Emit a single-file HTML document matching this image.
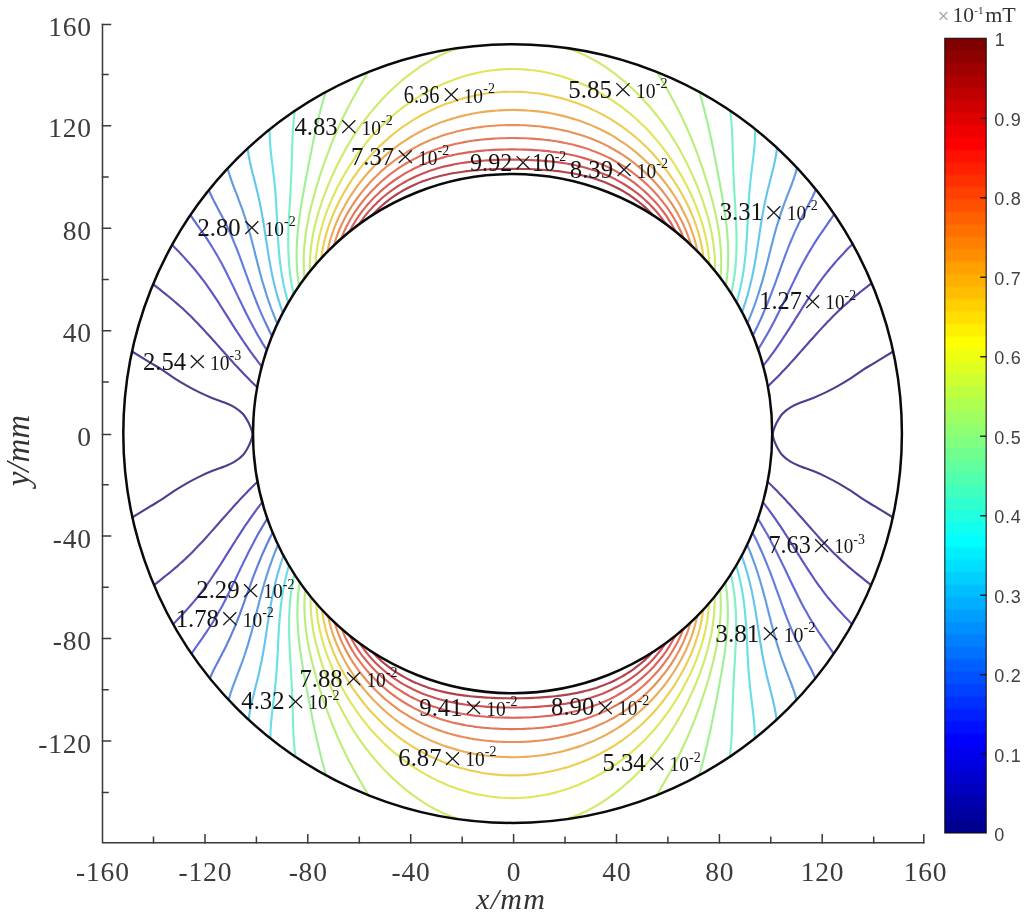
<!DOCTYPE html>
<html lang="en"><head><meta charset="utf-8"><title>Contour plot</title>
<style>html,body{margin:0;padding:0;background:#fff}svg{display:block}</style></head><body>
<svg width="1025" height="916" viewBox="0 0 1025 916">
<rect width="1025" height="916" fill="#fff"/>
<g fill="none" stroke-width="2.15" stroke-linecap="round" stroke-linejoin="round">
<path stroke="rgb(74,64,140)" d="M132.1 351.5C135.0 353.3 144.8 359.2 149.8 362.3C154.8 365.4 158.1 367.1 162.2 369.8C166.3 372.5 170.5 375.6 174.6 378.3C178.8 381.0 183.0 383.5 187.1 385.9C191.2 388.2 195.4 390.4 199.5 392.4C203.6 394.4 207.8 396.2 211.9 397.9C216.0 399.6 220.7 401.1 224.4 402.6C228.1 404.1 231.2 405.2 234.3 407.1C237.4 409.0 240.6 411.3 243.0 414.0C245.4 416.7 247.3 420.4 248.8 423.2C250.3 425.9 251.1 428.6 251.7 430.5C252.3 432.4 252.5 433.2 252.5 434.5C252.5 435.8 252.3 436.6 251.7 438.5C251.1 440.4 250.3 443.1 248.8 445.8C247.3 448.6 245.4 452.3 243.0 455.0C240.6 457.7 237.4 460.0 234.3 461.9C231.2 463.8 228.1 464.9 224.4 466.4C220.7 467.9 216.0 469.4 211.9 471.1C207.8 472.8 203.6 474.6 199.5 476.6C195.4 478.6 191.2 480.8 187.1 483.1C183.0 485.5 178.8 488.0 174.6 490.7C170.5 493.4 166.3 496.5 162.2 499.2C158.1 501.9 154.8 503.6 149.8 506.7C144.8 509.8 135.0 515.7 132.1 517.5M893.1 351.5C890.2 353.3 880.4 359.2 875.4 362.3C870.4 365.4 867.1 367.1 863.0 369.8C858.9 372.5 854.7 375.6 850.6 378.3C846.4 381.0 842.2 383.5 838.1 385.9C834.0 388.2 829.8 390.4 825.7 392.4C821.6 394.4 817.5 396.2 813.3 397.9C809.2 399.6 804.5 401.1 800.8 402.6C797.1 404.1 794.0 405.2 790.9 407.1C787.8 409.0 784.6 411.3 782.2 414.0C779.8 416.7 777.9 420.4 776.4 423.2C775.0 425.9 774.1 428.6 773.5 430.5C772.9 432.4 772.7 433.2 772.7 434.5C772.7 435.8 772.9 436.6 773.5 438.5C774.1 440.4 775.0 443.1 776.4 445.8C777.9 448.6 779.8 452.3 782.2 455.0C784.6 457.7 787.8 460.0 790.9 461.9C794.0 463.8 797.1 464.9 800.8 466.4C804.5 467.9 809.2 469.4 813.3 471.1C817.5 472.8 821.6 474.6 825.7 476.6C829.8 478.6 834.0 480.8 838.1 483.1C842.2 485.5 846.4 488.0 850.6 490.7C854.7 493.4 858.9 496.5 863.0 499.2C867.1 501.9 870.4 503.6 875.4 506.7C880.4 509.8 890.2 515.7 893.1 517.5"/>
<path stroke="rgb(84,74,165)" d="M154.3 584.9C155.1 584.3 157.5 582.4 159.1 581.1C160.7 579.8 162.4 578.5 164.0 577.2C165.6 575.9 167.2 574.6 168.8 573.3C170.5 572.0 172.1 570.7 173.7 569.3C175.3 567.9 176.9 566.6 178.4 565.2C180.0 563.8 181.6 562.3 183.2 560.9C184.8 559.4 186.3 557.9 187.9 556.4C189.4 554.9 191.0 553.4 192.5 551.9C194.1 550.3 195.6 548.7 197.2 547.1C198.7 545.5 200.2 543.9 201.8 542.2C203.3 540.6 204.9 538.9 206.4 537.2C207.9 535.6 209.3 534.0 210.7 532.4C212.1 530.8 213.4 529.4 214.8 527.8C216.3 526.2 217.9 524.3 219.4 522.5C221.0 520.8 222.5 519.0 224.1 517.2C225.6 515.5 227.2 513.7 228.8 511.9C230.4 510.1 232.0 508.4 233.5 506.6C235.1 504.9 236.8 503.0 238.3 501.4C239.7 499.8 240.9 498.5 242.4 497.0C243.9 495.4 245.7 493.5 247.3 491.9C248.8 490.3 249.8 489.2 251.6 487.5C253.3 485.8 256.5 482.6 257.5 481.7M153.3 284.4C154.1 285.1 156.6 287.0 158.2 288.2C159.8 289.5 161.5 290.8 163.1 292.1C164.7 293.4 166.3 294.6 168.0 296.0C169.6 297.3 171.2 298.6 172.8 300.0C174.4 301.3 176.0 302.7 177.6 304.1C179.2 305.5 180.8 306.9 182.4 308.3C184.0 309.8 185.5 311.3 187.1 312.7C188.7 314.2 190.2 315.8 191.8 317.3C193.3 318.9 194.9 320.4 196.4 322.0C198.0 323.6 199.5 325.3 201.1 326.9C202.6 328.5 204.2 330.2 205.7 331.9C207.2 333.5 208.7 335.1 210.1 336.7C211.5 338.3 212.7 339.7 214.2 341.3C215.6 342.9 217.3 344.8 218.8 346.5C220.4 348.3 222.0 350.1 223.5 351.8C225.1 353.6 226.7 355.4 228.3 357.1C229.8 358.9 231.5 360.7 233.0 362.4C234.6 364.2 236.3 366.0 237.8 367.6C239.3 369.2 240.5 370.4 242.0 372.0C243.5 373.6 245.3 375.5 246.9 377.1C248.4 378.6 249.5 379.7 251.2 381.4C252.9 383.1 256.2 386.3 257.2 387.2M870.9 584.9C870.1 584.3 867.7 582.4 866.1 581.1C864.5 579.8 862.8 578.5 861.2 577.2C859.6 575.9 858.0 574.6 856.4 573.3C854.7 572.0 853.1 570.7 851.5 569.3C849.9 567.9 848.3 566.6 846.8 565.2C845.2 563.8 843.6 562.3 842.0 560.9C840.4 559.4 838.9 557.9 837.3 556.4C835.8 554.9 834.2 553.4 832.7 551.9C831.1 550.3 829.6 548.7 828.0 547.1C826.5 545.5 825.0 543.9 823.4 542.2C821.9 540.6 820.3 538.9 818.8 537.2C817.3 535.6 815.9 534.0 814.5 532.4C813.1 530.8 811.8 529.4 810.4 527.8C808.9 526.2 807.3 524.3 805.8 522.5C804.2 520.8 802.7 519.0 801.1 517.2C799.6 515.5 798.0 513.7 796.4 511.9C794.8 510.1 793.2 508.4 791.7 506.6C790.1 504.9 788.4 503.0 786.9 501.4C785.5 499.8 784.3 498.5 782.8 497.0C781.3 495.4 779.5 493.5 777.9 491.9C776.4 490.3 775.4 489.2 773.6 487.5C771.9 485.8 768.7 482.6 767.7 481.7M871.4 283.4C870.6 284.0 868.2 285.9 866.6 287.2C864.9 288.5 863.3 289.7 861.7 291.0C860.1 292.3 858.4 293.6 856.8 294.9C855.2 296.2 853.6 297.6 852.0 298.9C850.4 300.3 848.8 301.7 847.2 303.1C845.6 304.5 844.0 305.9 842.4 307.3C840.9 308.8 839.3 310.3 837.7 311.8C836.2 313.3 834.6 314.8 833.1 316.3C831.5 317.9 830.0 319.5 828.4 321.1C826.9 322.7 825.3 324.3 823.8 325.9C822.3 327.6 820.7 329.3 819.2 330.9C817.7 332.6 816.2 334.2 814.8 335.8C813.4 337.3 812.2 338.7 810.7 340.3C809.3 342.0 807.6 343.8 806.1 345.6C804.5 347.3 803.0 349.1 801.4 350.9C799.8 352.7 798.3 354.4 796.7 356.2C795.1 358.0 793.5 359.8 791.9 361.5C790.3 363.2 788.7 365.1 787.2 366.7C785.7 368.3 784.5 369.5 783.0 371.1C781.5 372.7 779.7 374.6 778.2 376.2C776.6 377.7 775.6 378.8 773.8 380.5C772.1 382.2 768.9 385.4 767.9 386.4"/>
<path stroke="rgb(92,86,196)" d="M173.4 623.9C174.1 623.2 176.3 621.0 177.7 619.4C179.1 617.9 180.6 616.4 182.0 614.9C183.5 613.4 184.9 611.8 186.3 610.3C187.7 608.7 189.1 607.1 190.5 605.5C191.9 603.9 193.4 602.2 194.7 600.6C196.0 599.0 197.2 597.6 198.6 595.9C199.9 594.2 201.5 592.2 202.8 590.3C204.2 588.5 205.5 586.7 206.8 585.0C208.0 583.2 209.1 581.7 210.3 580.0C211.5 578.2 212.7 576.4 213.9 574.5C215.2 572.7 216.5 570.7 217.8 568.7C219.1 566.7 220.5 564.5 221.6 562.7C222.8 560.8 223.8 559.3 224.8 557.6C225.9 555.9 227.0 554.2 228.1 552.4C229.1 550.7 230.2 549.0 231.3 547.3C232.4 545.5 233.5 543.8 234.6 542.1C235.7 540.3 236.8 538.7 237.9 536.9C239.0 535.2 240.2 533.4 241.3 531.6C242.5 529.9 243.6 528.1 244.7 526.4C245.9 524.7 247.0 523.1 248.2 521.4C249.3 519.7 250.6 517.9 251.8 516.2C253.1 514.4 254.3 512.8 255.5 511.1C256.7 509.4 258.1 507.6 259.2 506.1C260.3 504.7 261.7 502.9 262.3 502.2M172.3 245.1C173.0 245.8 175.2 248.0 176.7 249.5C178.1 251.0 179.6 252.5 181.0 254.1C182.4 255.6 183.9 257.1 185.3 258.7C186.7 260.2 188.1 261.8 189.5 263.4C191.0 265.0 192.4 266.7 193.7 268.3C195.1 269.9 196.3 271.3 197.6 273.1C199.0 274.8 200.5 276.8 201.9 278.6C203.3 280.4 204.6 282.2 205.9 283.9C207.1 285.7 208.2 287.2 209.4 288.9C210.6 290.7 211.8 292.5 213.1 294.4C214.4 296.2 215.7 298.2 217.0 300.2C218.3 302.2 219.7 304.4 220.8 306.2C222.0 308.1 223.0 309.6 224.1 311.3C225.2 313.0 226.2 314.7 227.3 316.4C228.4 318.2 229.5 319.9 230.6 321.6C231.7 323.4 232.8 325.1 233.9 326.8C235.0 328.5 236.1 330.2 237.2 332.0C238.4 333.7 239.5 335.5 240.7 337.2C241.8 339.0 243.0 340.7 244.1 342.4C245.3 344.1 246.4 345.7 247.6 347.4C248.8 349.2 250.1 351.0 251.3 352.7C252.5 354.4 253.7 356.1 255.0 357.7C256.2 359.4 257.6 361.2 258.7 362.7C259.9 364.2 261.3 365.9 261.8 366.6M851.8 623.9C851.1 623.2 848.9 621.0 847.5 619.4C846.1 617.9 844.6 616.4 843.2 614.9C841.7 613.4 840.3 611.8 838.9 610.3C837.5 608.7 836.1 607.1 834.7 605.5C833.3 603.9 831.8 602.2 830.5 600.6C829.2 599.0 828.0 597.6 826.6 595.9C825.3 594.2 823.7 592.2 822.4 590.3C821.0 588.5 819.7 586.7 818.4 585.0C817.2 583.2 816.1 581.7 814.9 580.0C813.7 578.2 812.5 576.4 811.3 574.5C810.0 572.7 808.7 570.7 807.4 568.7C806.1 566.7 804.7 564.5 803.6 562.7C802.4 560.8 801.4 559.3 800.4 557.6C799.3 555.9 798.2 554.2 797.1 552.4C796.1 550.7 795.0 549.0 793.9 547.3C792.8 545.5 791.7 543.8 790.6 542.1C789.5 540.3 788.4 538.7 787.3 536.9C786.2 535.2 785.0 533.4 783.9 531.6C782.7 529.9 781.6 528.1 780.5 526.4C779.3 524.7 778.2 523.1 777.0 521.4C775.9 519.7 774.6 517.9 773.4 516.2C772.1 514.4 770.9 512.8 769.7 511.1C768.5 509.4 767.1 507.6 766.0 506.1C764.9 504.7 763.5 502.9 762.9 502.2M852.4 244.2C851.7 244.9 849.5 247.1 848.0 248.6C846.6 250.1 845.2 251.7 843.7 253.2C842.3 254.7 840.8 256.2 839.4 257.8C838.0 259.4 836.6 260.9 835.2 262.5C833.8 264.1 832.4 265.8 831.0 267.4C829.7 269.0 828.5 270.5 827.1 272.2C825.8 273.9 824.2 275.9 822.9 277.7C821.5 279.5 820.2 281.4 818.9 283.1C817.7 284.8 816.6 286.3 815.4 288.1C814.2 289.8 813.0 291.6 811.7 293.5C810.4 295.4 809.1 297.4 807.8 299.4C806.6 301.3 805.2 303.5 804.0 305.4C802.8 307.2 801.8 308.7 800.8 310.5C799.7 312.2 798.6 313.9 797.5 315.6C796.4 317.3 795.4 319.0 794.3 320.8C793.2 322.5 792.1 324.3 791.0 326.0C789.9 327.7 788.8 329.4 787.7 331.1C786.5 332.9 785.4 334.7 784.2 336.4C783.1 338.1 781.9 339.9 780.8 341.6C779.6 343.3 778.5 344.9 777.3 346.6C776.2 348.3 774.9 350.1 773.7 351.9C772.4 353.6 771.2 355.2 770.0 356.9C768.8 358.6 767.4 360.4 766.2 361.9C765.1 363.3 763.7 365.1 763.2 365.8"/>
<path stroke="rgb(98,104,215)" d="M191.7 653.4C192.3 652.6 194.1 649.9 195.3 648.1C196.5 646.4 197.8 644.6 199.0 642.9C200.2 641.1 201.4 639.4 202.7 637.6C203.9 635.8 205.1 634.1 206.3 632.3C207.5 630.5 208.7 628.7 209.9 626.8C211.1 625.0 212.3 623.1 213.4 621.2C214.6 619.3 215.8 617.4 216.9 615.4C218.0 613.5 219.1 611.5 220.1 609.7C221.2 607.9 222.0 606.3 223.0 604.4C224.0 602.5 225.3 600.1 226.3 598.1C227.2 596.2 228.0 594.6 228.9 592.8C229.8 591.0 230.7 589.1 231.6 587.3C232.5 585.5 233.4 583.6 234.3 581.8C235.2 579.9 236.0 578.0 236.9 576.2C237.8 574.3 238.7 572.4 239.6 570.5C240.5 568.6 241.4 566.7 242.4 564.8C243.3 562.9 244.2 561.0 245.2 559.1C246.1 557.2 247.1 555.2 248.0 553.3C248.9 551.5 249.7 549.9 250.7 548.0C251.7 546.1 252.8 543.9 253.9 541.9C254.9 540.0 255.9 538.2 256.9 536.3C258.0 534.4 259.0 532.5 260.1 530.7C261.2 528.8 262.1 527.2 263.3 525.2C264.5 523.1 266.7 519.7 267.3 518.6M190.6 215.3C191.2 216.2 193.0 218.8 194.2 220.6C195.5 222.3 196.7 224.1 197.9 225.8C199.2 227.6 200.4 229.3 201.6 231.1C202.8 232.9 204.1 234.6 205.3 236.4C206.5 238.2 207.7 240.0 208.9 241.9C210.1 243.7 211.3 245.6 212.4 247.5C213.6 249.4 214.8 251.3 215.9 253.2C217.0 255.2 218.2 257.1 219.2 259.0C220.2 260.8 221.0 262.4 222.1 264.3C223.1 266.2 224.3 268.6 225.3 270.6C226.3 272.5 227.1 274.1 228.0 275.9C228.9 277.7 229.8 279.6 230.7 281.4C231.6 283.2 232.5 285.1 233.4 286.9C234.3 288.8 235.2 290.7 236.1 292.6C237.0 294.4 237.9 296.3 238.8 298.2C239.7 300.1 240.7 302.0 241.6 303.9C242.5 305.8 243.5 307.7 244.4 309.7C245.3 311.6 246.3 313.5 247.3 315.4C248.2 317.2 249.0 318.8 250.0 320.7C251.0 322.6 252.2 324.8 253.2 326.8C254.3 328.7 255.3 330.6 256.3 332.4C257.3 334.3 258.4 336.2 259.5 338.0C260.5 339.9 261.5 341.6 262.7 343.6C264.0 345.6 266.1 349.0 266.8 350.1M833.5 653.4C832.9 652.6 831.1 649.9 829.9 648.1C828.7 646.4 827.4 644.6 826.2 642.9C825.0 641.1 823.8 639.4 822.5 637.6C821.3 635.8 820.1 634.1 818.9 632.3C817.7 630.5 816.5 628.7 815.3 626.8C814.1 625.0 812.9 623.1 811.8 621.2C810.6 619.3 809.4 617.4 808.3 615.4C807.2 613.5 806.1 611.5 805.1 609.7C804.0 607.9 803.2 606.3 802.2 604.4C801.2 602.5 799.9 600.1 798.9 598.1C798.0 596.2 797.2 594.6 796.3 592.8C795.4 591.0 794.5 589.1 793.6 587.3C792.7 585.5 791.8 583.6 790.9 581.8C790.0 579.9 789.2 578.0 788.3 576.2C787.4 574.3 786.5 572.4 785.6 570.5C784.7 568.6 783.8 566.7 782.8 564.8C781.9 562.9 781.0 561.0 780.0 559.1C779.1 557.2 778.1 555.2 777.2 553.3C776.3 551.5 775.5 549.9 774.5 548.0C773.5 546.1 772.4 543.9 771.3 541.9C770.3 540.0 769.3 538.2 768.3 536.3C767.2 534.4 766.2 532.5 765.1 530.7C764.0 528.8 763.1 527.2 761.9 525.2C760.7 523.1 758.5 519.7 757.9 518.6M834.1 214.5C833.5 215.4 831.7 218.0 830.4 219.8C829.2 221.6 828.0 223.3 826.8 225.1C825.5 226.8 824.3 228.6 823.1 230.3C821.9 232.1 820.6 233.9 819.4 235.7C818.2 237.5 817.0 239.3 815.8 241.1C814.6 243.0 813.5 244.8 812.3 246.7C811.1 248.6 810.0 250.6 808.8 252.5C807.7 254.4 806.6 256.4 805.6 258.2C804.5 260.1 803.7 261.6 802.7 263.5C801.7 265.5 800.4 267.9 799.4 269.8C798.4 271.7 797.6 273.4 796.7 275.2C795.8 277.0 794.9 278.8 794.1 280.6C793.2 282.5 792.3 284.3 791.4 286.2C790.5 288.0 789.6 289.9 788.7 291.8C787.8 293.7 786.9 295.6 786.0 297.5C785.1 299.4 784.2 301.3 783.2 303.2C782.3 305.1 781.4 307.0 780.4 308.9C779.5 310.8 778.5 312.8 777.6 314.6C776.7 316.5 775.8 318.1 774.9 320.0C773.9 321.9 772.7 324.1 771.7 326.0C770.6 328.0 769.6 329.8 768.6 331.7C767.6 333.5 766.5 335.4 765.4 337.3C764.4 339.1 763.4 340.8 762.2 342.8C761.0 344.8 758.8 348.2 758.2 349.3"/>
<path stroke="rgb(98,126,222)" d="M210.0 678.0C210.4 677.0 211.7 674.2 212.6 672.2C213.6 670.2 214.7 668.0 215.7 666.0C216.8 664.0 217.8 662.1 218.8 660.2C219.8 658.3 220.8 656.3 221.8 654.4C222.8 652.4 223.8 650.6 224.7 648.7C225.7 646.7 226.8 644.6 227.7 642.6C228.7 640.7 229.5 638.9 230.4 636.9C231.3 635.0 232.1 633.0 233.0 630.9C233.9 628.9 235.0 626.4 235.8 624.4C236.6 622.4 237.3 620.7 238.0 618.8C238.7 617.0 239.5 615.1 240.2 613.1C240.9 611.2 241.6 609.2 242.3 607.3C243.0 605.4 243.7 603.5 244.4 601.5C245.1 599.5 245.9 597.4 246.6 595.4C247.3 593.4 248.0 591.3 248.8 589.4C249.5 587.4 250.2 585.5 250.8 583.6C251.5 581.7 252.2 579.8 252.9 577.9C253.6 576.0 254.3 574.2 255.1 572.2C255.9 570.2 256.7 568.1 257.5 566.1C258.3 564.0 259.1 562.0 260.0 560.0C260.8 558.0 261.7 555.9 262.5 553.9C263.4 551.9 264.2 550.1 265.1 548.2C266.0 546.2 267.0 544.0 268.0 542.0C268.9 540.0 270.1 537.7 270.9 536.1C271.6 534.5 272.3 533.2 272.6 532.6M208.9 190.5C209.3 191.4 210.6 194.2 211.6 196.2C212.5 198.2 213.7 200.4 214.7 202.4C215.7 204.4 216.7 206.3 217.7 208.3C218.8 210.2 219.8 212.2 220.8 214.1C221.8 216.0 222.7 217.8 223.7 219.8C224.7 221.8 225.8 223.9 226.7 225.8C227.7 227.8 228.5 229.6 229.4 231.6C230.3 233.5 231.2 235.5 232.1 237.5C233.0 239.6 234.0 242.1 234.8 244.1C235.7 246.1 236.3 247.8 237.1 249.7C237.8 251.5 238.5 253.5 239.3 255.4C240.0 257.3 240.7 259.3 241.4 261.2C242.1 263.2 242.8 265.1 243.5 267.1C244.3 269.0 245.0 271.1 245.7 273.2C246.5 275.2 247.2 277.2 247.9 279.2C248.6 281.2 249.3 283.1 250.0 285.0C250.7 286.9 251.4 288.7 252.1 290.6C252.8 292.5 253.5 294.4 254.3 296.4C255.1 298.4 255.9 300.5 256.7 302.5C257.5 304.6 258.4 306.6 259.2 308.6C260.1 310.6 261.0 312.7 261.8 314.7C262.7 316.7 263.5 318.5 264.4 320.4C265.3 322.4 266.4 324.6 267.3 326.6C268.3 328.6 269.4 331.0 270.2 332.5C271.0 334.1 271.7 335.4 272.0 336.0M815.2 678.0C814.8 677.0 813.5 674.2 812.6 672.2C811.6 670.2 810.5 668.0 809.5 666.0C808.4 664.0 807.4 662.1 806.4 660.2C805.4 658.3 804.4 656.3 803.4 654.4C802.4 652.4 801.4 650.6 800.5 648.7C799.5 646.7 798.4 644.6 797.5 642.6C796.5 640.7 795.7 638.9 794.8 636.9C793.9 635.0 793.1 633.0 792.2 630.9C791.3 628.9 790.2 626.4 789.4 624.4C788.6 622.4 787.9 620.7 787.2 618.8C786.5 617.0 785.7 615.1 785.0 613.1C784.3 611.2 783.6 609.2 782.9 607.3C782.2 605.4 781.5 603.5 780.8 601.5C780.1 599.5 779.3 597.4 778.6 595.4C777.9 593.4 777.2 591.3 776.4 589.4C775.7 587.4 775.0 585.5 774.4 583.6C773.7 581.7 773.0 579.8 772.3 577.9C771.6 576.0 770.9 574.2 770.1 572.2C769.3 570.2 768.5 568.1 767.7 566.1C766.9 564.0 766.1 562.0 765.2 560.0C764.4 558.0 763.5 555.9 762.7 553.9C761.8 551.9 761.0 550.1 760.1 548.2C759.2 546.2 758.2 544.0 757.2 542.0C756.3 540.0 755.1 537.7 754.3 536.1C753.6 534.5 752.9 533.2 752.6 532.6M815.8 189.8C815.3 190.8 814.1 193.6 813.1 195.6C812.2 197.6 811.0 199.8 810.0 201.8C809.0 203.8 808.0 205.7 807.0 207.6C806.0 209.6 804.9 211.5 803.9 213.5C802.9 215.4 802.0 217.2 801.0 219.1C800.0 221.1 798.9 223.2 798.0 225.2C797.1 227.2 796.2 228.9 795.3 230.9C794.4 232.8 793.6 234.8 792.7 236.9C791.8 239.0 790.7 241.4 789.9 243.4C789.1 245.4 788.4 247.1 787.7 249.0C787.0 250.9 786.2 252.8 785.5 254.7C784.8 256.6 784.1 258.6 783.4 260.5C782.6 262.5 782.0 264.4 781.2 266.4C780.5 268.4 779.8 270.4 779.1 272.5C778.3 274.5 777.6 276.5 776.9 278.5C776.2 280.5 775.5 282.4 774.8 284.3C774.1 286.2 773.4 288.0 772.7 289.9C772.0 291.8 771.3 293.7 770.5 295.7C769.7 297.7 768.9 299.8 768.1 301.8C767.3 303.8 766.5 305.9 765.6 307.9C764.8 309.9 763.9 312.0 763.0 314.0C762.2 315.9 761.4 317.7 760.5 319.7C759.5 321.7 758.5 323.9 757.6 325.9C756.6 327.9 755.4 330.2 754.7 331.8C753.9 333.4 753.2 334.7 752.9 335.3"/>
<path stroke="rgb(98,156,225)" d="M228.8 699.6C229.1 698.4 230.0 695.1 230.7 692.9C231.4 690.7 232.2 688.6 232.9 686.4C233.7 684.3 234.5 682.2 235.3 680.1C236.1 678.0 236.9 675.9 237.7 673.8C238.5 671.7 239.3 669.6 240.1 667.5C240.9 665.4 241.7 663.2 242.5 661.1C243.3 658.9 244.0 656.7 244.8 654.5C245.5 652.3 246.3 649.8 247.0 647.7C247.6 645.7 248.2 643.9 248.7 642.0C249.3 640.0 249.9 638.1 250.4 636.1C251.0 634.1 251.6 632.1 252.1 630.0C252.6 628.0 253.2 625.9 253.7 623.9C254.2 621.8 254.8 619.7 255.3 617.6C255.8 615.5 256.4 613.3 256.9 611.2C257.4 609.2 257.8 607.4 258.4 605.3C258.9 603.1 259.6 600.5 260.2 598.3C260.8 596.1 261.3 594.2 261.9 592.1C262.4 589.9 263.2 587.4 263.8 585.3C264.4 583.2 264.9 581.4 265.5 579.5C266.1 577.5 266.7 575.7 267.3 573.7C268.0 571.6 268.7 569.5 269.4 567.4C270.1 565.3 270.9 563.1 271.7 560.9C272.4 558.8 273.2 556.8 274.0 554.7C274.8 552.6 275.8 550.2 276.5 548.5C277.2 546.9 277.8 545.5 278.1 544.8M227.7 168.7C228.0 169.8 229.0 173.2 229.7 175.4C230.4 177.5 231.1 179.7 231.9 181.8C232.7 183.9 233.5 186.0 234.2 188.1C235.0 190.3 235.9 192.3 236.7 194.4C237.5 196.6 238.3 198.7 239.1 200.8C239.9 202.9 240.7 205.0 241.5 207.2C242.3 209.4 243.1 211.6 243.8 213.8C244.6 216.0 245.4 218.5 246.0 220.5C246.7 222.6 247.2 224.4 247.8 226.3C248.4 228.3 249.0 230.2 249.5 232.2C250.1 234.2 250.6 236.3 251.2 238.3C251.7 240.3 252.3 242.4 252.8 244.5C253.3 246.6 253.9 248.7 254.4 250.8C254.9 252.9 255.5 255.1 256.0 257.2C256.5 259.2 257.0 261.0 257.5 263.1C258.1 265.3 258.8 267.9 259.3 270.1C259.9 272.3 260.4 274.2 261.0 276.3C261.6 278.5 262.3 281.1 262.9 283.2C263.6 285.3 264.1 287.0 264.7 289.0C265.3 290.9 265.9 292.8 266.5 294.8C267.2 296.8 267.9 299.0 268.6 301.1C269.4 303.2 270.2 305.4 270.9 307.5C271.7 309.7 272.5 311.7 273.3 313.8C274.1 315.9 275.2 318.4 275.8 320.0C276.5 321.6 277.1 323.1 277.4 323.7M796.4 699.6C796.1 698.4 795.2 695.1 794.5 692.9C793.8 690.7 793.0 688.6 792.3 686.4C791.5 684.3 790.7 682.2 789.9 680.1C789.1 678.0 788.3 675.9 787.5 673.8C786.7 671.7 785.9 669.6 785.1 667.5C784.3 665.4 783.5 663.2 782.7 661.1C781.9 658.9 781.2 656.7 780.4 654.5C779.7 652.3 778.9 649.8 778.2 647.7C777.6 645.7 777.0 643.9 776.5 642.0C775.9 640.0 775.3 638.1 774.8 636.1C774.2 634.1 773.6 632.1 773.1 630.0C772.6 628.0 772.0 625.9 771.5 623.9C771.0 621.8 770.4 619.7 769.9 617.6C769.4 615.5 768.8 613.3 768.3 611.2C767.8 609.2 767.4 607.4 766.8 605.3C766.3 603.1 765.6 600.5 765.0 598.3C764.4 596.1 763.9 594.2 763.3 592.1C762.8 589.9 762.0 587.4 761.4 585.3C760.8 583.2 760.3 581.4 759.7 579.5C759.1 577.5 758.5 575.7 757.9 573.7C757.2 571.6 756.5 569.5 755.8 567.4C755.1 565.3 754.3 563.1 753.5 560.9C752.8 558.8 752.0 556.8 751.2 554.7C750.4 552.6 749.4 550.2 748.7 548.5C748.0 546.9 747.4 545.5 747.1 544.8M797.0 168.1C796.7 169.2 795.7 172.6 795.0 174.8C794.3 177.0 793.6 179.1 792.8 181.3C792.1 183.4 791.3 185.5 790.5 187.6C789.7 189.7 788.9 191.8 788.0 193.9C787.2 196.0 786.4 198.1 785.6 200.2C784.8 202.4 784.0 204.5 783.2 206.7C782.5 208.8 781.7 211.0 780.9 213.2C780.2 215.5 779.4 217.9 778.7 220.0C778.1 222.1 777.5 223.8 776.9 225.8C776.4 227.7 775.8 229.7 775.2 231.7C774.7 233.7 774.1 235.7 773.6 237.7C773.0 239.8 772.5 241.8 772.0 243.9C771.4 246.0 770.9 248.1 770.4 250.2C769.8 252.3 769.3 254.5 768.8 256.6C768.2 258.6 767.8 260.3 767.3 262.5C766.7 264.7 766.0 267.3 765.5 269.5C764.9 271.7 764.4 273.5 763.8 275.7C763.2 277.9 762.5 280.4 761.9 282.5C761.3 284.6 760.7 286.4 760.1 288.3C759.5 290.3 759.0 292.1 758.3 294.2C757.7 296.2 756.9 298.3 756.2 300.4C755.5 302.5 754.7 304.8 753.9 306.9C753.1 309.0 752.4 311.1 751.5 313.1C750.7 315.2 749.7 317.7 749.0 319.3C748.4 321.0 747.7 322.4 747.5 323.0"/>
<path stroke="rgb(100,198,238)" d="M248.7 719.3C248.8 718.3 249.2 715.4 249.5 713.3C249.9 711.2 250.4 708.7 250.8 706.6C251.2 704.5 251.7 702.7 252.1 700.7C252.6 698.6 253.2 696.4 253.7 694.4C254.2 692.3 254.7 690.3 255.2 688.4C255.7 686.4 256.2 684.6 256.7 682.5C257.2 680.4 257.8 678.1 258.4 675.8C258.9 673.6 259.5 671.1 259.9 669.0C260.4 666.8 260.8 664.9 261.2 662.8C261.7 660.8 262.0 658.8 262.4 656.7C262.8 654.7 263.2 652.6 263.5 650.5C263.9 648.4 264.3 646.2 264.6 644.1C265.0 641.9 265.3 639.7 265.6 637.5C266.0 635.4 266.3 633.3 266.6 631.0C266.9 628.8 267.3 626.4 267.6 624.1C268.0 621.9 268.3 619.8 268.7 617.5C269.0 615.2 269.4 612.8 269.8 610.4C270.2 608.1 270.6 605.7 271.0 603.6C271.4 601.4 271.7 599.6 272.1 597.5C272.6 595.5 273.0 593.3 273.4 591.3C273.9 589.2 274.3 587.4 274.8 585.4C275.3 583.3 275.8 581.3 276.3 579.1C276.9 577.0 277.5 574.7 278.1 572.5C278.8 570.3 279.4 568.1 280.1 565.9C280.8 563.8 281.6 561.2 282.2 559.5C282.8 557.8 283.3 556.3 283.5 555.7M247.7 148.7C247.8 149.7 248.2 152.6 248.5 154.7C248.9 156.8 249.4 159.3 249.8 161.4C250.3 163.6 250.7 165.3 251.2 167.4C251.7 169.4 252.2 171.6 252.7 173.7C253.3 175.7 253.8 177.7 254.3 179.7C254.8 181.7 255.3 183.4 255.8 185.5C256.3 187.6 256.9 190.0 257.4 192.3C258.0 194.5 258.5 197.0 259.0 199.1C259.5 201.3 259.9 203.2 260.3 205.3C260.7 207.3 261.1 209.3 261.5 211.4C261.9 213.5 262.3 215.6 262.6 217.7C263.0 219.8 263.4 221.9 263.7 224.1C264.1 226.3 264.4 228.5 264.7 230.7C265.1 232.8 265.4 234.9 265.7 237.2C266.1 239.4 266.4 241.8 266.8 244.1C267.1 246.4 267.4 248.5 267.8 250.7C268.2 253.0 268.6 255.5 268.9 257.8C269.3 260.2 269.8 262.6 270.2 264.7C270.6 266.9 270.9 268.7 271.3 270.8C271.7 272.9 272.2 275.0 272.6 277.1C273.1 279.1 273.5 281.0 274.0 283.0C274.5 285.0 275.0 287.1 275.5 289.3C276.1 291.4 276.7 293.7 277.4 295.9C278.0 298.1 278.7 300.3 279.4 302.5C280.0 304.6 280.9 307.2 281.5 308.9C282.1 310.6 282.6 312.1 282.8 312.7M776.5 719.3C776.4 718.3 776.0 715.4 775.7 713.3C775.3 711.2 774.8 708.7 774.4 706.6C774.0 704.5 773.5 702.7 773.1 700.7C772.6 698.6 772.0 696.4 771.5 694.4C771.0 692.3 770.5 690.3 770.0 688.4C769.5 686.4 769.0 684.6 768.5 682.5C768.0 680.4 767.4 678.1 766.8 675.8C766.3 673.6 765.7 671.1 765.3 669.0C764.8 666.8 764.4 664.9 764.0 662.8C763.5 660.8 763.2 658.8 762.8 656.7C762.4 654.7 762.0 652.6 761.7 650.5C761.3 648.4 760.9 646.2 760.6 644.1C760.2 641.9 759.9 639.7 759.6 637.5C759.2 635.4 758.9 633.3 758.6 631.0C758.3 628.8 757.9 626.4 757.6 624.1C757.2 621.9 756.9 619.8 756.5 617.5C756.2 615.2 755.8 612.8 755.4 610.4C755.0 608.1 754.6 605.7 754.2 603.6C753.8 601.4 753.5 599.6 753.1 597.5C752.6 595.5 752.2 593.3 751.8 591.3C751.3 589.2 750.9 587.4 750.4 585.4C749.9 583.3 749.4 581.3 748.9 579.1C748.3 577.0 747.7 574.7 747.1 572.5C746.4 570.3 745.8 568.1 745.1 565.9C744.4 563.8 743.6 561.2 743.0 559.5C742.4 557.8 741.9 556.3 741.7 555.7M777.0 148.3C776.9 149.3 776.5 152.2 776.2 154.3C775.8 156.4 775.3 158.9 774.9 161.0C774.5 163.1 774.0 164.9 773.6 166.9C773.1 169.0 772.5 171.2 772.0 173.2C771.5 175.3 771.0 177.3 770.5 179.2C770.0 181.2 769.5 183.0 769.0 185.1C768.4 187.2 767.9 189.5 767.3 191.8C766.8 194.1 766.2 196.5 765.7 198.7C765.3 200.8 764.9 202.8 764.4 204.8C764.0 206.8 763.6 208.9 763.3 210.9C762.9 213.0 762.5 215.1 762.1 217.2C761.8 219.3 761.4 221.4 761.1 223.6C760.7 225.8 760.4 228.0 760.0 230.1C759.7 232.3 759.4 234.4 759.1 236.6C758.7 238.9 758.4 241.3 758.0 243.6C757.7 245.8 757.4 247.9 757.0 250.2C756.6 252.5 756.2 254.9 755.9 257.3C755.5 259.6 755.0 262.0 754.6 264.2C754.3 266.3 753.9 268.2 753.5 270.2C753.1 272.3 752.6 274.5 752.2 276.5C751.7 278.5 751.3 280.4 750.8 282.4C750.4 284.4 749.8 286.5 749.3 288.6C748.7 290.8 748.1 293.1 747.5 295.3C746.8 297.5 746.2 299.7 745.5 301.8C744.8 304.0 744.0 306.6 743.4 308.3C742.8 310.0 742.3 311.5 742.0 312.1"/>
<path stroke="rgb(105,224,232)" d="M270.5 738.0C270.5 737.0 270.5 733.8 270.5 731.7C270.6 729.6 270.7 727.5 270.9 725.5C271.0 723.5 271.2 721.4 271.4 719.4C271.6 717.4 271.8 715.4 272.0 713.4C272.2 711.4 272.5 709.5 272.7 707.5C273.0 705.5 273.2 703.5 273.5 701.5C273.7 699.5 273.9 697.5 274.2 695.5C274.4 693.5 274.7 691.4 274.9 689.3C275.1 687.3 275.3 685.2 275.5 683.1C275.7 681.0 275.9 678.9 276.1 676.8C276.3 674.6 276.5 672.5 276.6 670.3C276.8 668.1 276.9 665.9 277.1 663.7C277.2 661.4 277.3 659.1 277.5 656.9C277.6 654.7 277.7 652.5 277.8 650.5C277.9 648.4 278.0 646.6 278.1 644.4C278.2 642.1 278.3 639.6 278.4 637.2C278.5 634.9 278.7 632.4 278.8 630.0C279.0 627.6 279.1 625.2 279.3 622.8C279.5 620.4 279.7 617.9 279.9 615.6C280.1 613.2 280.4 610.7 280.6 608.5C280.8 606.3 281.0 604.6 281.3 602.6C281.6 600.6 281.8 598.7 282.1 596.6C282.5 594.5 282.8 592.2 283.2 589.9C283.6 587.7 284.1 585.4 284.5 583.4C284.9 581.3 285.3 579.5 285.8 577.4C286.3 575.3 287.0 572.7 287.5 570.7C288.0 568.7 288.7 566.3 289.0 565.4M269.6 129.8C269.6 130.8 269.6 134.0 269.7 136.1C269.7 138.2 269.8 140.3 270.0 142.3C270.1 144.4 270.3 146.4 270.5 148.4C270.7 150.4 270.9 152.4 271.1 154.4C271.3 156.4 271.6 158.4 271.8 160.4C272.1 162.4 272.3 164.4 272.6 166.4C272.8 168.4 273.1 170.4 273.3 172.4C273.6 174.4 273.8 176.5 274.0 178.6C274.2 180.6 274.5 182.7 274.7 184.8C274.9 186.9 275.1 189.0 275.3 191.2C275.4 193.3 275.6 195.5 275.8 197.7C275.9 199.9 276.1 202.1 276.2 204.3C276.3 206.6 276.5 208.9 276.6 211.1C276.7 213.3 276.8 215.5 276.9 217.6C277.0 219.7 277.1 221.5 277.2 223.7C277.3 225.9 277.4 228.5 277.6 230.9C277.7 233.2 277.8 235.7 278.0 238.1C278.1 240.5 278.3 242.9 278.5 245.3C278.6 247.8 278.8 250.2 279.1 252.6C279.3 255.0 279.5 257.5 279.8 259.7C280.0 261.9 280.2 263.7 280.5 265.6C280.7 267.6 281.0 269.5 281.3 271.6C281.7 273.7 282.1 276.1 282.5 278.3C282.9 280.5 283.3 282.8 283.7 284.9C284.2 287.0 284.6 288.8 285.1 290.9C285.6 293.0 286.2 295.6 286.8 297.6C287.3 299.7 288.0 302.1 288.2 303.0M754.7 738.0C754.7 737.0 754.7 733.8 754.7 731.7C754.6 729.6 754.5 727.5 754.3 725.5C754.2 723.5 754.0 721.4 753.8 719.4C753.6 717.4 753.4 715.4 753.2 713.4C753.0 711.4 752.7 709.5 752.5 707.5C752.2 705.5 752.0 703.5 751.7 701.5C751.5 699.5 751.3 697.5 751.0 695.5C750.8 693.5 750.5 691.4 750.3 689.3C750.1 687.3 749.9 685.2 749.7 683.1C749.5 681.0 749.3 678.9 749.1 676.8C748.9 674.6 748.7 672.5 748.6 670.3C748.4 668.1 748.3 665.9 748.1 663.7C748.0 661.4 747.9 659.1 747.7 656.9C747.6 654.7 747.5 652.5 747.4 650.5C747.3 648.4 747.2 646.6 747.1 644.4C747.0 642.1 746.9 639.6 746.8 637.2C746.7 634.9 746.5 632.4 746.4 630.0C746.2 627.6 746.1 625.2 745.9 622.8C745.7 620.4 745.5 617.9 745.3 615.6C745.1 613.2 744.8 610.7 744.6 608.5C744.4 606.3 744.2 604.6 743.9 602.6C743.6 600.6 743.4 598.7 743.1 596.6C742.7 594.5 742.4 592.2 742.0 589.9C741.6 587.7 741.1 585.4 740.7 583.4C740.3 581.3 739.9 579.5 739.4 577.4C738.9 575.3 738.2 572.7 737.7 570.7C737.2 568.7 736.5 566.3 736.2 565.4M755.2 129.5C755.2 130.5 755.2 133.7 755.1 135.8C755.1 137.9 754.9 139.9 754.8 142.0C754.7 144.0 754.5 146.0 754.3 148.0C754.1 150.1 753.9 152.1 753.7 154.1C753.4 156.1 753.2 158.0 752.9 160.0C752.7 162.0 752.5 164.0 752.2 166.0C752.0 168.0 751.7 170.0 751.5 172.0C751.2 174.1 751.0 176.1 750.8 178.2C750.5 180.3 750.3 182.3 750.1 184.4C749.9 186.5 749.7 188.6 749.5 190.8C749.4 192.9 749.2 195.1 749.0 197.3C748.9 199.5 748.7 201.7 748.6 203.9C748.4 206.1 748.3 208.5 748.2 210.7C748.1 212.9 748.0 215.0 747.9 217.1C747.8 219.2 747.7 221.0 747.6 223.3C747.5 225.5 747.3 228.0 747.2 230.4C747.1 232.8 747.0 235.2 746.8 237.6C746.7 240.0 746.5 242.4 746.3 244.8C746.2 247.3 746.0 249.7 745.8 252.1C745.5 254.5 745.3 257.0 745.0 259.2C744.8 261.3 744.6 263.1 744.3 265.1C744.1 267.1 743.8 269.0 743.5 271.1C743.2 273.2 742.8 275.5 742.4 277.8C742.0 280.0 741.5 282.3 741.1 284.4C740.7 286.5 740.3 288.2 739.8 290.3C739.3 292.4 738.6 295.1 738.1 297.1C737.6 299.1 736.9 301.5 736.6 302.4"/>
<path stroke="rgb(128,240,198)" d="M295.4 756.3C295.3 755.2 294.9 751.9 294.6 749.7C294.4 747.6 294.2 745.4 294.0 743.2C293.9 741.1 293.7 739.0 293.6 736.8C293.5 734.7 293.4 732.6 293.3 730.4C293.2 728.3 293.1 726.2 293.1 724.0C293.0 721.9 292.9 719.7 292.9 717.6C292.8 715.6 292.8 713.8 292.7 711.6C292.7 709.4 292.6 706.9 292.5 704.7C292.5 702.4 292.4 700.3 292.3 698.0C292.2 695.8 292.1 693.5 292.0 691.3C291.9 689.1 291.8 686.9 291.7 684.8C291.6 682.7 291.5 680.8 291.4 678.8C291.3 676.8 291.2 674.9 291.1 672.7C291.0 670.6 290.8 668.1 290.7 665.9C290.5 663.7 290.4 661.7 290.3 659.4C290.2 657.2 290.0 654.7 289.9 652.6C289.8 650.4 289.7 648.6 289.6 646.5C289.5 644.5 289.4 642.5 289.3 640.5C289.3 638.4 289.2 636.4 289.2 634.4C289.1 632.3 289.1 630.3 289.1 628.2C289.1 626.2 289.1 624.2 289.1 622.1C289.1 620.1 289.1 618.1 289.2 616.1C289.3 614.1 289.4 612.0 289.5 610.0C289.6 608.0 289.7 606.1 289.9 604.1C290.0 602.1 290.2 600.2 290.4 598.1C290.7 596.0 290.9 593.8 291.2 591.6C291.5 589.5 291.8 587.4 292.2 585.2C292.5 583.1 293.0 580.8 293.3 578.9C293.7 577.1 294.2 574.9 294.4 574.1M294.7 111.3C294.6 112.4 294.1 115.7 293.9 117.9C293.7 120.1 293.5 122.2 293.3 124.4C293.1 126.6 293.0 128.7 292.8 130.8C292.7 133.0 292.6 135.1 292.5 137.2C292.4 139.4 292.4 141.5 292.3 143.7C292.2 145.8 292.2 148.0 292.1 150.1C292.0 152.2 292.0 154.0 291.9 156.1C291.9 158.3 291.8 160.8 291.7 163.1C291.7 165.4 291.6 167.5 291.5 169.7C291.4 172.0 291.3 174.3 291.2 176.5C291.1 178.7 291.0 180.9 290.9 183.0C290.8 185.1 290.7 187.0 290.6 189.0C290.5 191.0 290.4 193.0 290.3 195.1C290.1 197.3 290.0 199.8 289.9 202.0C289.7 204.2 289.6 206.2 289.5 208.5C289.3 210.7 289.2 213.2 289.1 215.4C289.0 217.5 288.9 219.4 288.8 221.4C288.7 223.5 288.6 225.5 288.5 227.5C288.5 229.6 288.4 231.6 288.3 233.7C288.3 235.7 288.3 237.8 288.3 239.8C288.2 241.8 288.2 243.9 288.3 245.9C288.3 248.0 288.3 250.0 288.4 252.0C288.5 254.0 288.6 256.1 288.7 258.1C288.8 260.1 288.9 262.1 289.1 264.1C289.2 266.1 289.4 268.0 289.7 270.1C289.9 272.2 290.1 274.4 290.4 276.5C290.7 278.7 291.1 280.8 291.4 283.0C291.8 285.1 292.2 287.5 292.6 289.3C293.0 291.2 293.5 293.3 293.6 294.1M729.8 756.3C729.9 755.2 730.3 751.9 730.6 749.7C730.8 747.6 731.0 745.4 731.2 743.2C731.3 741.1 731.5 739.0 731.6 736.8C731.7 734.7 731.8 732.6 731.9 730.4C732.0 728.3 732.1 726.2 732.1 724.0C732.2 721.9 732.3 719.7 732.3 717.6C732.4 715.6 732.4 713.8 732.5 711.6C732.5 709.4 732.6 706.9 732.7 704.7C732.7 702.4 732.8 700.3 732.9 698.0C733.0 695.8 733.1 693.5 733.2 691.3C733.3 689.1 733.4 686.9 733.5 684.8C733.6 682.7 733.7 680.8 733.8 678.8C733.9 676.8 734.0 674.9 734.1 672.7C734.2 670.6 734.4 668.1 734.5 665.9C734.7 663.7 734.8 661.7 734.9 659.4C735.0 657.2 735.2 654.7 735.3 652.6C735.4 650.4 735.5 648.6 735.6 646.5C735.7 644.5 735.8 642.5 735.9 640.5C735.9 638.4 736.0 636.4 736.0 634.4C736.1 632.3 736.1 630.3 736.1 628.2C736.1 626.2 736.1 624.2 736.1 622.1C736.1 620.1 736.1 618.1 736.0 616.1C735.9 614.1 735.8 612.0 735.7 610.0C735.6 608.0 735.5 606.1 735.3 604.1C735.2 602.1 735.0 600.2 734.8 598.1C734.5 596.0 734.3 593.8 734.0 591.6C733.7 589.5 733.4 587.4 733.0 585.2C732.7 583.1 732.2 580.8 731.9 578.9C731.5 577.1 731.0 574.9 730.8 574.1M730.2 111.1C730.3 112.2 730.7 115.5 731.0 117.6C731.2 119.8 731.4 122.0 731.6 124.1C731.7 126.3 731.9 128.4 732.0 130.6C732.1 132.7 732.2 134.8 732.3 137.0C732.4 139.1 732.5 141.2 732.5 143.4C732.6 145.5 732.7 147.7 732.7 149.8C732.8 151.9 732.8 153.7 732.9 155.8C733.0 158.0 733.0 160.5 733.1 162.8C733.2 165.0 733.2 167.2 733.3 169.4C733.4 171.6 733.5 174.0 733.6 176.2C733.7 178.4 733.8 180.6 733.9 182.7C734.0 184.7 734.1 186.6 734.2 188.7C734.3 190.7 734.4 192.6 734.5 194.8C734.7 196.9 734.8 199.4 735.0 201.6C735.1 203.8 735.2 205.8 735.3 208.1C735.5 210.3 735.6 212.8 735.7 215.0C735.8 217.1 735.9 219.0 736.0 221.0C736.1 223.0 736.2 225.1 736.3 227.1C736.4 229.1 736.4 231.2 736.5 233.2C736.5 235.3 736.5 237.3 736.6 239.4C736.6 241.4 736.6 243.4 736.5 245.5C736.5 247.5 736.5 249.5 736.4 251.5C736.3 253.5 736.3 255.6 736.1 257.6C736.0 259.6 735.9 261.6 735.7 263.6C735.6 265.6 735.4 267.5 735.2 269.6C735.0 271.6 734.7 273.9 734.4 276.0C734.1 278.2 733.8 280.3 733.4 282.4C733.1 284.6 732.6 286.9 732.2 288.8C731.9 290.6 731.4 292.8 731.2 293.6"/>
<path stroke="rgb(162,240,150)" d="M326.0 774.8C325.6 773.7 324.7 770.4 324.1 768.2C323.4 765.9 322.8 763.6 322.2 761.4C321.6 759.1 321.0 756.9 320.5 754.7C319.9 752.5 319.4 750.2 318.9 748.1C318.3 746.0 318.0 744.3 317.5 742.1C317.0 740.0 316.4 737.5 315.9 735.2C315.4 733.0 315.0 730.8 314.5 728.7C314.1 726.6 313.7 724.7 313.3 722.7C312.8 720.6 312.4 718.4 312.0 716.3C311.6 714.2 311.2 712.3 310.8 710.3C310.4 708.3 310.0 706.4 309.6 704.4C309.2 702.4 308.8 700.2 308.4 698.2C308.0 696.2 307.7 694.3 307.3 692.3C306.9 690.3 306.5 688.2 306.2 686.2C305.8 684.2 305.4 682.3 305.1 680.2C304.7 678.2 304.3 676.0 303.9 673.9C303.6 671.9 303.3 670.1 302.9 668.0C302.5 665.9 302.2 663.5 301.8 661.4C301.5 659.2 301.1 657.1 300.8 655.0C300.5 652.8 300.2 650.7 299.9 648.6C299.7 646.4 299.4 644.3 299.2 642.1C298.9 640.0 298.7 637.8 298.5 635.7C298.3 633.5 298.1 631.4 298.0 629.3C297.8 627.1 297.7 625.0 297.6 622.9C297.5 620.8 297.5 618.7 297.4 616.6C297.4 614.5 297.4 612.4 297.4 610.4C297.4 608.3 297.5 606.2 297.6 604.2C297.6 602.2 297.8 600.2 297.9 598.2C298.1 596.2 298.2 594.2 298.4 592.2C298.7 590.1 299.0 587.6 299.2 585.9C299.4 584.3 299.7 582.8 299.8 582.2M325.4 92.6C325.1 93.7 324.1 97.0 323.5 99.3C322.8 101.5 322.2 103.8 321.6 106.1C321.0 108.3 320.4 110.6 319.9 112.8C319.3 115.0 318.7 117.3 318.2 119.4C317.7 121.5 317.3 123.2 316.8 125.4C316.3 127.5 315.7 130.1 315.3 132.3C314.8 134.6 314.3 136.8 313.8 138.9C313.4 141.0 313.0 142.8 312.6 144.9C312.1 147.0 311.7 149.2 311.3 151.3C310.9 153.4 310.5 155.3 310.1 157.3C309.7 159.3 309.3 161.2 308.9 163.2C308.5 165.3 308.1 167.4 307.7 169.5C307.3 171.5 306.9 173.4 306.6 175.4C306.2 177.4 305.8 179.5 305.4 181.5C305.0 183.5 304.7 185.4 304.3 187.5C303.9 189.6 303.5 191.8 303.2 193.8C302.8 195.9 302.5 197.7 302.1 199.8C301.8 201.9 301.4 204.3 301.0 206.5C300.7 208.6 300.4 210.7 300.1 212.9C299.7 215.0 299.4 217.2 299.2 219.3C298.9 221.5 298.6 223.6 298.4 225.8C298.1 228.0 297.9 230.1 297.7 232.3C297.5 234.4 297.3 236.6 297.2 238.7C297.0 240.8 296.9 243.0 296.8 245.1C296.7 247.2 296.7 249.3 296.6 251.4C296.6 253.5 296.6 255.6 296.6 257.7C296.7 259.8 296.7 261.8 296.8 263.9C296.9 265.9 297.0 267.9 297.1 269.9C297.3 271.9 297.5 273.9 297.7 276.0C297.9 278.0 298.2 280.5 298.5 282.2C298.7 283.9 298.9 285.4 299.0 286.0M699.2 774.8C699.6 773.7 700.5 770.4 701.1 768.2C701.8 765.9 702.4 763.6 703.0 761.4C703.6 759.1 704.2 756.9 704.7 754.7C705.3 752.5 705.8 750.2 706.3 748.1C706.9 746.0 707.2 744.3 707.7 742.1C708.2 740.0 708.8 737.5 709.3 735.2C709.8 733.0 710.2 730.8 710.7 728.7C711.1 726.6 711.5 724.7 711.9 722.7C712.4 720.6 712.8 718.4 713.2 716.3C713.6 714.2 714.0 712.3 714.4 710.3C714.8 708.3 715.2 706.4 715.6 704.4C716.0 702.4 716.4 700.2 716.8 698.2C717.2 696.2 717.5 694.3 717.9 692.3C718.3 690.3 718.7 688.2 719.0 686.2C719.4 684.2 719.8 682.3 720.1 680.2C720.5 678.2 720.9 676.0 721.3 673.9C721.6 671.9 721.9 670.1 722.3 668.0C722.7 665.9 723.0 663.5 723.4 661.4C723.7 659.2 724.1 657.1 724.4 655.0C724.7 652.8 725.0 650.7 725.3 648.6C725.5 646.4 725.8 644.3 726.0 642.1C726.3 640.0 726.5 637.8 726.7 635.7C726.9 633.5 727.1 631.4 727.2 629.3C727.4 627.1 727.5 625.0 727.6 622.9C727.7 620.8 727.7 618.7 727.8 616.6C727.8 614.5 727.8 612.4 727.8 610.4C727.8 608.3 727.7 606.2 727.6 604.2C727.6 602.2 727.4 600.2 727.3 598.2C727.1 596.2 727.0 594.2 726.8 592.2C726.5 590.1 726.2 587.6 726.0 585.9C725.8 584.3 725.5 582.8 725.4 582.2M699.5 92.4C699.9 93.5 700.8 96.9 701.4 99.1C702.1 101.4 702.7 103.6 703.3 105.9C703.9 108.1 704.5 110.4 705.0 112.6C705.6 114.8 706.2 117.1 706.7 119.2C707.2 121.3 707.6 123.0 708.1 125.2C708.6 127.3 709.1 129.9 709.6 132.1C710.1 134.3 710.6 136.6 711.0 138.6C711.5 140.7 711.9 142.6 712.3 144.7C712.7 146.8 713.2 149.0 713.6 151.1C714.0 153.1 714.4 155.1 714.8 157.1C715.2 159.1 715.6 161.0 716.0 163.0C716.3 165.0 716.8 167.2 717.2 169.2C717.5 171.2 717.9 173.2 718.3 175.2C718.7 177.1 719.1 179.2 719.4 181.2C719.8 183.2 720.2 185.1 720.5 187.2C720.9 189.2 721.3 191.5 721.7 193.5C722.0 195.6 722.4 197.4 722.7 199.5C723.1 201.6 723.5 203.9 723.8 206.1C724.1 208.3 724.5 210.4 724.8 212.5C725.1 214.7 725.4 216.8 725.7 219.0C725.9 221.1 726.2 223.3 726.5 225.4C726.7 227.6 726.9 229.7 727.1 231.9C727.3 234.0 727.5 236.2 727.6 238.3C727.8 240.4 727.9 242.6 728.0 244.7C728.1 246.8 728.2 248.9 728.2 251.0C728.2 253.1 728.2 255.2 728.2 257.2C728.2 259.3 728.1 261.4 728.0 263.4C728.0 265.4 727.8 267.4 727.7 269.4C727.5 271.5 727.4 273.4 727.2 275.5C726.9 277.5 726.6 280.0 726.4 281.7C726.2 283.4 725.9 284.9 725.8 285.5"/>
<path stroke="rgb(187,238,124)" d="M368.2 794.8C367.6 793.8 366.0 791.0 364.8 789.1C363.7 787.2 362.6 785.3 361.5 783.3C360.4 781.4 359.2 779.4 358.2 777.5C357.1 775.7 356.2 774.0 355.2 772.3C354.2 770.5 353.3 768.9 352.3 767.0C351.3 765.2 350.3 763.2 349.2 761.2C348.2 759.2 347.1 757.1 346.2 755.2C345.2 753.2 344.4 751.6 343.4 749.6C342.5 747.6 341.3 745.0 340.3 743.0C339.4 741.0 338.8 739.5 337.9 737.5C337.0 735.4 335.8 732.9 334.9 730.7C334.0 728.5 333.2 726.5 332.4 724.5C331.6 722.5 330.9 720.7 330.1 718.6C329.3 716.5 328.4 714.1 327.6 711.9C326.8 709.8 326.0 707.7 325.3 705.6C324.5 703.4 323.8 701.3 323.1 699.2C322.3 697.0 321.6 694.8 320.9 692.7C320.2 690.5 319.5 688.3 318.8 686.1C318.2 683.9 317.5 681.7 316.8 679.5C316.2 677.3 315.5 675.0 314.9 672.8C314.3 670.6 313.8 668.5 313.2 666.4C312.7 664.3 312.1 662.2 311.6 660.2C311.1 658.2 310.7 656.3 310.3 654.2C309.8 652.2 309.3 649.9 308.9 647.8C308.5 645.7 308.1 643.7 307.7 641.7C307.4 639.7 307.1 637.7 306.8 635.6C306.5 633.6 306.2 631.5 305.9 629.5C305.7 627.5 305.5 625.4 305.3 623.4C305.1 621.4 304.9 619.4 304.8 617.3C304.7 615.3 304.6 613.3 304.5 611.2C304.4 609.2 304.4 607.2 304.4 605.2C304.4 603.1 304.5 601.1 304.5 599.1C304.6 597.1 304.8 594.6 304.9 593.0C305.0 591.5 305.1 590.2 305.2 589.6M367.8 72.5C367.3 73.4 365.6 76.3 364.5 78.2C363.3 80.1 362.2 82.0 361.1 83.9C360.0 85.9 358.8 87.9 357.7 89.8C356.7 91.6 355.7 93.3 354.8 95.0C353.8 96.8 352.9 98.5 351.9 100.3C350.9 102.2 349.8 104.2 348.8 106.2C347.7 108.1 346.6 110.3 345.7 112.2C344.7 114.1 343.9 115.7 342.9 117.8C341.9 119.8 340.7 122.4 339.8 124.4C338.8 126.4 338.2 127.9 337.3 129.9C336.4 132.0 335.3 134.6 334.4 136.8C333.4 138.9 332.6 141.0 331.8 143.0C331.0 145.0 330.3 146.8 329.5 148.9C328.7 151.0 327.8 153.4 327.0 155.6C326.1 157.8 325.4 159.8 324.6 162.0C323.9 164.1 323.1 166.3 322.4 168.4C321.7 170.6 321.0 172.7 320.2 174.9C319.5 177.1 318.8 179.3 318.2 181.5C317.5 183.7 316.8 185.9 316.1 188.2C315.5 190.4 314.8 192.7 314.2 194.9C313.6 197.1 313.0 199.2 312.5 201.3C311.9 203.4 311.4 205.5 310.9 207.6C310.4 209.6 310.0 211.5 309.5 213.5C309.1 215.6 308.6 217.9 308.2 220.0C307.7 222.1 307.4 224.1 307.0 226.1C306.6 228.2 306.3 230.2 306.0 232.2C305.7 234.3 305.4 236.4 305.2 238.4C304.9 240.5 304.7 242.5 304.5 244.5C304.3 246.6 304.2 248.6 304.0 250.6C303.9 252.7 303.8 254.7 303.7 256.7C303.7 258.8 303.7 260.8 303.7 262.8C303.7 264.9 303.7 266.9 303.8 268.9C303.9 271.0 304.0 273.5 304.1 275.0C304.3 276.6 304.4 277.9 304.4 278.4M657.0 794.8C657.6 793.8 659.2 791.0 660.4 789.1C661.5 787.2 662.6 785.3 663.7 783.3C664.8 781.4 666.0 779.4 667.0 777.5C668.1 775.7 669.0 774.0 670.0 772.3C671.0 770.5 671.9 768.9 672.9 767.0C673.9 765.2 674.9 763.2 676.0 761.2C677.0 759.2 678.1 757.1 679.0 755.2C680.0 753.2 680.8 751.6 681.8 749.6C682.7 747.6 683.9 745.0 684.9 743.0C685.8 741.0 686.4 739.5 687.3 737.5C688.2 735.4 689.4 732.9 690.3 730.7C691.2 728.5 692.0 726.5 692.8 724.5C693.6 722.5 694.3 720.7 695.1 718.6C695.9 716.5 696.8 714.1 697.6 711.9C698.4 709.8 699.2 707.7 699.9 705.6C700.7 703.4 701.4 701.3 702.1 699.2C702.9 697.0 703.6 694.8 704.3 692.7C705.0 690.5 705.7 688.3 706.4 686.1C707.0 683.9 707.7 681.7 708.4 679.5C709.0 677.3 709.7 675.0 710.3 672.8C710.9 670.6 711.4 668.5 712.0 666.4C712.5 664.3 713.1 662.2 713.6 660.2C714.1 658.2 714.5 656.3 714.9 654.2C715.4 652.2 715.9 649.9 716.3 647.8C716.7 645.7 717.1 643.7 717.5 641.7C717.8 639.7 718.1 637.7 718.4 635.6C718.7 633.6 719.0 631.5 719.3 629.5C719.5 627.5 719.7 625.4 719.9 623.4C720.1 621.4 720.3 619.4 720.4 617.3C720.5 615.3 720.6 613.3 720.7 611.2C720.8 609.2 720.8 607.2 720.8 605.2C720.8 603.1 720.7 601.1 720.7 599.1C720.6 597.1 720.4 594.6 720.3 593.0C720.2 591.5 720.1 590.2 720.0 589.6M657.2 72.4C657.8 73.4 659.4 76.2 660.6 78.1C661.7 80.0 662.8 81.9 663.9 83.8C665.0 85.8 666.2 87.8 667.3 89.7C668.3 91.5 669.3 93.2 670.2 94.9C671.2 96.7 672.1 98.4 673.1 100.2C674.1 102.1 675.2 104.1 676.2 106.0C677.2 108.0 678.3 110.1 679.3 112.1C680.3 114.0 681.1 115.6 682.0 117.6C683.0 119.7 684.2 122.2 685.2 124.3C686.1 126.3 686.7 127.7 687.6 129.8C688.5 131.8 689.7 134.4 690.6 136.6C691.5 138.8 692.3 140.8 693.1 142.8C693.9 144.8 694.6 146.6 695.4 148.7C696.2 150.8 697.1 153.2 697.9 155.4C698.8 157.6 699.5 159.6 700.2 161.8C701.0 163.9 701.7 166.0 702.5 168.2C703.2 170.3 703.9 172.5 704.6 174.7C705.3 176.9 706.0 179.1 706.7 181.3C707.4 183.5 708.1 185.7 708.7 187.9C709.4 190.1 710.0 192.4 710.6 194.6C711.3 196.8 711.8 198.9 712.4 201.0C712.9 203.1 713.5 205.2 713.9 207.3C714.4 209.3 714.9 211.1 715.3 213.2C715.8 215.3 716.3 217.5 716.7 219.6C717.1 221.7 717.5 223.8 717.8 225.8C718.2 227.8 718.5 229.8 718.8 231.9C719.1 233.9 719.4 236.0 719.7 238.0C719.9 240.1 720.1 242.1 720.3 244.1C720.5 246.2 720.7 248.2 720.8 250.2C720.9 252.3 721.0 254.3 721.1 256.3C721.2 258.4 721.2 260.4 721.2 262.4C721.2 264.4 721.1 266.5 721.0 268.5C721.0 270.5 720.8 273.0 720.7 274.6C720.6 276.2 720.5 277.4 720.4 278.0"/>
<path stroke="rgb(206,235,108)" d="M457.6 818.6C456.7 818.3 454.0 817.4 452.0 816.7C450.0 815.9 447.6 815.0 445.6 814.2C443.6 813.3 441.9 812.5 440.1 811.7C438.2 810.8 436.6 810.0 434.6 809.0C432.7 807.9 430.6 806.7 428.6 805.6C426.6 804.4 424.5 803.1 422.6 801.9C420.8 800.7 419.3 799.7 417.4 798.4C415.5 797.0 413.0 795.3 411.2 793.9C409.4 792.5 408.0 791.4 406.4 790.2C404.8 788.9 403.3 787.6 401.7 786.2C400.1 784.8 398.5 783.4 396.8 781.9C395.0 780.3 393.1 778.6 391.4 776.9C389.7 775.2 388.0 773.6 386.4 772.0C384.8 770.3 383.2 768.7 381.6 767.0C380.1 765.3 378.5 763.6 377.0 761.9C375.5 760.2 374.0 758.4 372.6 756.7C371.2 755.0 369.8 753.3 368.5 751.6C367.1 749.9 365.8 748.2 364.5 746.5C363.3 744.8 362.0 743.1 360.8 741.4C359.6 739.7 358.4 738.0 357.3 736.3C356.1 734.6 355.0 732.8 353.9 731.1C352.8 729.4 351.8 727.7 350.7 726.0C349.7 724.3 348.8 722.7 347.7 720.8C346.6 719.0 345.4 716.8 344.3 714.9C343.2 712.9 342.2 711.0 341.2 709.1C340.2 707.2 339.4 705.5 338.4 703.6C337.5 701.6 336.4 699.4 335.5 697.5C334.5 695.5 333.7 693.6 332.8 691.6C331.9 689.7 331.2 687.9 330.3 686.0C329.5 684.1 328.7 682.0 327.9 680.0C327.1 678.1 326.4 676.2 325.6 674.2C324.9 672.3 324.2 670.4 323.5 668.5C322.8 666.6 322.2 664.7 321.6 662.8C320.9 660.9 320.3 658.9 319.7 656.9C319.1 655.0 318.5 653.1 318.0 651.1C317.4 649.2 317.0 647.5 316.4 645.3C315.9 643.2 315.3 640.5 314.7 638.1C314.2 635.7 313.7 633.2 313.3 631.0C313.0 628.8 312.7 627.2 312.4 625.0C312.1 622.8 311.7 620.1 311.5 617.7C311.2 615.4 311.0 613.1 310.9 610.9C310.8 608.7 310.7 606.9 310.6 604.5C310.6 602.1 310.6 598.0 310.7 596.7M457.6 48.5C456.6 48.8 453.9 49.7 451.9 50.4C449.9 51.2 447.5 52.1 445.5 53.0C443.5 53.8 441.8 54.6 440.0 55.4C438.1 56.3 436.4 57.1 434.5 58.2C432.6 59.2 430.4 60.4 428.4 61.6C426.4 62.7 424.3 64.0 422.5 65.2C420.6 66.4 419.1 67.4 417.2 68.8C415.3 70.1 412.8 71.9 411.0 73.3C409.2 74.6 407.8 75.7 406.2 77.0C404.6 78.3 403.1 79.6 401.4 81.0C399.8 82.3 398.2 83.7 396.5 85.3C394.8 86.8 392.8 88.6 391.1 90.3C389.4 92.0 387.7 93.6 386.1 95.2C384.5 96.9 382.9 98.6 381.3 100.2C379.7 101.9 378.2 103.6 376.7 105.4C375.1 107.1 373.6 108.9 372.2 110.6C370.8 112.3 369.4 114.0 368.1 115.7C366.7 117.4 365.4 119.1 364.1 120.8C362.8 122.5 361.6 124.2 360.4 125.9C359.2 127.6 358.0 129.4 356.8 131.1C355.7 132.8 354.6 134.5 353.5 136.2C352.4 137.9 351.3 139.7 350.2 141.4C349.2 143.1 348.2 144.7 347.2 146.6C346.1 148.4 344.8 150.6 343.8 152.6C342.7 154.5 341.6 156.5 340.7 158.4C339.7 160.3 338.8 162.0 337.8 163.9C336.9 165.9 335.8 168.1 334.9 170.0C333.9 172.0 333.0 174.0 332.2 175.9C331.3 177.8 330.5 179.6 329.7 181.6C328.9 183.5 328.0 185.6 327.2 187.5C326.4 189.5 325.7 191.4 325.0 193.4C324.2 195.3 323.5 197.3 322.8 199.2C322.1 201.1 321.5 202.9 320.9 204.9C320.2 206.8 319.6 208.8 319.0 210.8C318.4 212.8 317.8 214.7 317.3 216.6C316.7 218.5 316.3 220.2 315.7 222.4C315.2 224.6 314.5 227.3 314.0 229.7C313.5 232.1 313.0 234.7 312.6 236.9C312.2 239.1 312.0 240.6 311.6 242.8C311.3 245.1 311.0 247.8 310.7 250.2C310.5 252.6 310.3 254.9 310.2 257.1C310.0 259.3 309.9 261.1 309.9 263.5C309.9 265.8 309.9 270.0 309.9 271.3M567.6 818.6C568.5 818.3 571.2 817.4 573.2 816.7C575.2 815.9 577.6 815.0 579.6 814.2C581.6 813.3 583.3 812.5 585.1 811.7C587.0 810.8 588.6 810.0 590.6 809.0C592.5 807.9 594.6 806.7 596.6 805.6C598.6 804.4 600.7 803.1 602.6 801.9C604.4 800.7 605.9 799.7 607.8 798.4C609.7 797.0 612.2 795.3 614.0 793.9C615.8 792.5 617.2 791.4 618.8 790.2C620.4 788.9 621.9 787.6 623.5 786.2C625.1 784.8 626.7 783.4 628.4 781.9C630.2 780.3 632.1 778.6 633.8 776.9C635.5 775.2 637.2 773.6 638.8 772.0C640.4 770.3 642.0 768.7 643.6 767.0C645.1 765.3 646.7 763.6 648.2 761.9C649.7 760.2 651.2 758.4 652.6 756.7C654.0 755.0 655.4 753.3 656.7 751.6C658.1 749.9 659.4 748.2 660.7 746.5C661.9 744.8 663.2 743.1 664.4 741.4C665.6 739.7 666.8 738.0 667.9 736.3C669.1 734.6 670.2 732.8 671.3 731.1C672.4 729.4 673.4 727.7 674.5 726.0C675.5 724.3 676.4 722.7 677.5 720.8C678.6 719.0 679.8 716.8 680.9 714.9C682.0 712.9 683.0 711.0 684.0 709.1C685.0 707.2 685.8 705.5 686.8 703.6C687.7 701.6 688.8 699.4 689.7 697.5C690.7 695.5 691.5 693.6 692.4 691.6C693.3 689.7 694.0 687.9 694.9 686.0C695.7 684.1 696.5 682.0 697.3 680.0C698.1 678.1 698.8 676.2 699.6 674.2C700.3 672.3 701.0 670.4 701.7 668.5C702.4 666.6 703.0 664.7 703.6 662.8C704.3 660.9 704.9 658.9 705.5 656.9C706.1 655.0 706.7 653.1 707.2 651.1C707.8 649.2 708.2 647.5 708.8 645.3C709.3 643.2 709.9 640.5 710.5 638.1C711.0 635.7 711.5 633.2 711.9 631.0C712.2 628.8 712.5 627.2 712.8 625.0C713.1 622.8 713.5 620.1 713.7 617.7C714.0 615.4 714.2 613.1 714.3 610.9C714.4 608.7 714.5 606.9 714.6 604.5C714.6 602.1 714.6 598.0 714.5 596.7M567.6 48.5C568.5 48.8 571.2 49.7 573.2 50.4C575.3 51.2 577.7 52.1 579.7 53.0C581.7 53.8 583.4 54.6 585.2 55.4C587.0 56.3 588.7 57.1 590.6 58.2C592.5 59.2 594.7 60.4 596.7 61.5C598.7 62.7 600.8 64.0 602.7 65.2C604.5 66.4 606.0 67.4 607.9 68.7C609.8 70.1 612.3 71.9 614.1 73.2C615.9 74.6 617.3 75.7 618.9 77.0C620.5 78.3 622.0 79.6 623.7 80.9C625.3 82.3 626.9 83.7 628.6 85.2C630.3 86.8 632.2 88.6 634.0 90.3C635.7 91.9 637.3 93.5 638.9 95.2C640.6 96.8 642.2 98.5 643.7 100.2C645.3 101.9 646.9 103.6 648.4 105.3C649.9 107.0 651.4 108.8 652.8 110.5C654.2 112.2 655.6 113.9 656.9 115.6C658.3 117.3 659.6 119.0 660.9 120.7C662.1 122.4 663.4 124.1 664.6 125.8C665.8 127.5 667.0 129.3 668.1 131.0C669.3 132.7 670.4 134.4 671.5 136.1C672.6 137.8 673.7 139.5 674.7 141.2C675.8 143.0 676.7 144.6 677.8 146.4C678.9 148.3 680.1 150.4 681.2 152.4C682.3 154.4 683.3 156.3 684.3 158.2C685.3 160.1 686.1 161.8 687.1 163.7C688.1 165.7 689.1 167.9 690.0 169.9C691.0 171.8 691.9 173.8 692.7 175.7C693.6 177.6 694.4 179.4 695.2 181.4C696.0 183.3 696.9 185.4 697.7 187.3C698.5 189.3 699.2 191.2 699.9 193.1C700.7 195.1 701.4 197.0 702.1 198.9C702.7 200.8 703.4 202.7 704.0 204.6C704.6 206.5 705.3 208.6 705.9 210.5C706.5 212.5 707.1 214.4 707.6 216.3C708.1 218.2 708.6 219.9 709.1 222.1C709.7 224.3 710.3 227.0 710.8 229.4C711.3 231.8 711.8 234.3 712.2 236.5C712.6 238.7 712.9 240.3 713.2 242.5C713.5 244.7 713.9 247.4 714.1 249.8C714.4 252.2 714.5 254.5 714.7 256.7C714.8 258.9 714.9 260.7 714.9 263.1C715.0 265.4 714.9 269.6 714.9 270.9"/>
<path stroke="rgb(223,230,92)" d="M316.3 603.4C316.3 604.5 316.5 607.7 316.7 609.9C316.9 612.1 317.1 614.4 317.4 616.6C317.7 618.7 318.0 620.6 318.3 622.6C318.7 624.6 319.0 626.6 319.5 628.7C319.9 630.8 320.4 633.0 321.0 635.1C321.5 637.2 322.0 639.2 322.6 641.3C323.2 643.3 323.8 645.4 324.5 647.5C325.2 649.7 326.1 652.2 326.8 654.2C327.5 656.3 328.2 658.0 328.9 659.8C329.7 661.7 330.4 663.6 331.2 665.5C332.0 667.4 332.9 669.3 333.7 671.2C334.6 673.1 335.5 675.0 336.4 676.9C337.3 678.8 338.2 680.5 339.2 682.4C340.2 684.3 341.3 686.3 342.3 688.3C343.4 690.2 344.5 692.1 345.5 693.9C346.6 695.8 347.7 697.6 348.8 699.4C349.9 701.2 351.0 702.8 352.1 704.5C353.2 706.2 354.3 707.9 355.5 709.6C356.6 711.3 357.8 713.0 359.0 714.6C360.2 716.3 361.5 717.9 362.7 719.5C364.0 721.2 365.2 722.8 366.5 724.4C367.8 726.0 369.2 727.6 370.5 729.2C371.9 730.7 373.3 732.3 374.6 733.8C376.0 735.3 377.5 736.8 378.9 738.3C380.4 739.8 381.8 741.3 383.3 742.8C384.8 744.2 386.4 745.6 387.9 747.1C389.4 748.5 391.0 749.8 392.6 751.2C394.2 752.6 395.8 753.9 397.4 755.2C399.0 756.5 400.7 757.8 402.4 759.1C404.0 760.4 405.7 761.6 407.4 762.8C409.2 764.1 410.9 765.3 412.6 766.4C414.4 767.6 416.2 768.7 418.0 769.8C419.7 771.0 421.6 772.0 423.4 773.1C425.2 774.2 427.0 775.2 428.9 776.2C430.8 777.2 432.6 778.2 434.5 779.1C436.4 780.1 438.3 781.0 440.3 781.8C442.2 782.7 444.1 783.6 446.1 784.4C448.0 785.2 450.0 786.0 452.0 786.8C454.0 787.5 456.0 788.2 458.0 788.9C460.0 789.6 462.0 790.2 464.0 790.8C466.1 791.4 468.1 792.0 470.1 792.6C472.2 793.1 474.3 793.6 476.3 794.1C478.4 794.5 480.5 794.9 482.6 795.3C484.6 795.7 486.7 796.0 488.8 796.3C490.9 796.6 493.0 796.9 495.1 797.1C497.2 797.4 499.4 797.5 501.5 797.7C503.6 797.8 506.0 797.9 507.8 798.0C509.7 798.0 511.0 798.1 512.6 798.1C514.2 798.1 515.5 798.0 517.4 798.0C519.2 797.9 521.6 797.8 523.7 797.7C525.8 797.5 528.0 797.4 530.1 797.1C532.2 796.9 534.3 796.6 536.4 796.3C538.5 796.0 540.6 795.7 542.6 795.3C544.7 794.9 546.8 794.5 548.9 794.1C550.9 793.6 553.0 793.1 555.1 792.6C557.1 792.0 559.1 791.4 561.2 790.8C563.2 790.2 565.2 789.6 567.2 788.9C569.2 788.2 571.2 787.5 573.2 786.8C575.2 786.0 577.2 785.2 579.1 784.4C581.1 783.6 583.0 782.7 584.9 781.8C586.9 781.0 588.8 780.1 590.7 779.1C592.6 778.2 594.4 777.2 596.3 776.2C598.2 775.2 600.0 774.2 601.8 773.1C603.6 772.0 605.5 771.0 607.2 769.8C609.0 768.7 610.8 767.6 612.6 766.4C614.3 765.3 616.0 764.1 617.8 762.8C619.5 761.6 621.2 760.4 622.8 759.1C624.5 757.8 626.2 756.5 627.8 755.2C629.4 753.9 631.0 752.6 632.6 751.2C634.2 749.8 635.8 748.5 637.3 747.1C638.8 745.6 640.4 744.2 641.9 742.8C643.4 741.3 644.8 739.8 646.3 738.3C647.7 736.8 649.2 735.3 650.6 733.8C651.9 732.3 653.3 730.7 654.7 729.2C656.0 727.6 657.4 726.0 658.7 724.4C660.0 722.8 661.2 721.2 662.5 719.5C663.7 717.9 665.0 716.3 666.2 714.6C667.4 713.0 668.6 711.3 669.7 709.6C670.9 707.9 672.0 706.2 673.1 704.5C674.2 702.8 675.3 701.2 676.4 699.4C677.5 697.6 678.6 695.8 679.7 693.9C680.7 692.1 681.8 690.2 682.9 688.3C683.9 686.3 685.0 684.3 686.0 682.4C687.0 680.5 687.9 678.8 688.8 676.9C689.7 675.0 690.6 673.1 691.5 671.2C692.3 669.3 693.2 667.4 694.0 665.5C694.8 663.6 695.5 661.7 696.3 659.8C697.0 658.0 697.7 656.3 698.4 654.2C699.1 652.2 700.0 649.7 700.7 647.5C701.4 645.4 702.0 643.3 702.6 641.3C703.2 639.2 703.7 637.2 704.2 635.1C704.8 633.0 705.3 630.8 705.7 628.7C706.2 626.6 706.5 624.6 706.9 622.6C707.2 620.6 707.5 618.7 707.8 616.6C708.1 614.4 708.3 612.1 708.5 609.9C708.7 607.7 708.9 604.5 708.9 603.4M315.5 264.6C315.6 263.5 315.8 260.2 316.0 258.0C316.2 255.8 316.4 253.4 316.7 251.3C317.0 249.2 317.3 247.3 317.6 245.2C318.0 243.2 318.3 241.2 318.8 239.1C319.2 237.0 319.7 234.7 320.3 232.6C320.8 230.5 321.3 228.6 321.9 226.5C322.5 224.4 323.1 222.4 323.8 220.2C324.5 218.0 325.4 215.5 326.1 213.5C326.9 211.4 327.5 209.7 328.3 207.8C329.0 205.9 329.8 204.0 330.6 202.1C331.4 200.2 332.2 198.3 333.1 196.4C334.0 194.5 334.9 192.6 335.8 190.7C336.7 188.8 337.6 187.0 338.6 185.1C339.6 183.2 340.7 181.2 341.7 179.2C342.8 177.3 343.9 175.4 345.0 173.5C346.1 171.7 347.2 169.8 348.3 168.0C349.4 166.3 350.4 164.6 351.6 162.9C352.7 161.2 353.8 159.5 355.0 157.8C356.1 156.1 357.3 154.4 358.5 152.7C359.8 151.1 361.0 149.4 362.3 147.8C363.5 146.2 364.8 144.5 366.1 142.9C367.4 141.3 368.8 139.7 370.1 138.1C371.5 136.6 372.9 135.0 374.3 133.5C375.7 131.9 377.1 130.4 378.6 128.9C380.0 127.4 381.5 125.9 383.0 124.5C384.5 123.0 386.0 121.6 387.6 120.2C389.1 118.8 390.7 117.4 392.3 116.0C393.9 114.6 395.5 113.3 397.1 112.0C398.8 110.6 400.4 109.3 402.1 108.1C403.8 106.8 405.5 105.6 407.2 104.3C408.9 103.1 410.7 101.9 412.4 100.7C414.2 99.6 416.0 98.4 417.8 97.3C419.6 96.2 421.4 95.1 423.2 94.0C425.0 93.0 426.9 91.9 428.8 90.9C430.6 89.9 432.5 89.0 434.4 88.0C436.3 87.1 438.2 86.2 440.2 85.3C442.1 84.4 444.0 83.5 446.0 82.7C448.0 81.9 449.9 81.1 451.9 80.4C453.9 79.6 455.9 78.9 457.9 78.2C459.9 77.5 461.9 76.9 464.0 76.3C466.0 75.7 468.1 75.1 470.1 74.5C472.2 74.0 474.2 73.5 476.3 73.1C478.4 72.6 480.5 72.2 482.5 71.8C484.6 71.4 486.7 71.1 488.8 70.8C490.9 70.5 493.0 70.2 495.1 70.0C497.2 69.7 499.4 69.6 501.5 69.4C503.6 69.3 506.0 69.2 507.8 69.1C509.7 69.1 511.0 69.0 512.6 69.0C514.2 69.0 515.5 69.1 517.4 69.1C519.2 69.2 521.6 69.3 523.7 69.4C525.8 69.6 528.0 69.7 530.1 70.0C532.2 70.2 534.3 70.5 536.4 70.8C538.5 71.1 540.6 71.4 542.7 71.8C544.7 72.2 546.8 72.6 548.9 73.0C551.0 73.5 553.0 74.0 555.1 74.5C557.1 75.1 559.2 75.7 561.2 76.3C563.2 76.9 565.3 77.5 567.3 78.2C569.3 78.9 571.3 79.6 573.3 80.4C575.2 81.1 577.2 81.9 579.2 82.7C581.1 83.5 583.1 84.4 585.0 85.3C586.9 86.1 588.8 87.1 590.7 88.0C592.6 89.0 594.5 89.9 596.4 90.9C598.2 91.9 600.1 93.0 601.9 94.0C603.7 95.1 605.5 96.2 607.3 97.3C609.1 98.4 610.9 99.5 612.7 100.7C614.4 101.9 616.2 103.1 617.9 104.3C619.6 105.5 621.3 106.8 623.0 108.0C624.6 109.3 626.3 110.6 627.9 111.9C629.6 113.2 631.2 114.6 632.8 115.9C634.4 117.3 635.9 118.7 637.5 120.1C639.0 121.5 640.5 123.0 642.0 124.4C643.5 125.9 645.0 127.3 646.5 128.8C647.9 130.3 649.3 131.9 650.8 133.4C652.2 134.9 653.5 136.5 654.9 138.1C656.2 139.6 657.6 141.2 658.9 142.8C660.2 144.4 661.5 146.0 662.7 147.7C664.0 149.3 665.2 151.0 666.4 152.6C667.6 154.3 668.8 156.0 670.0 157.6C671.1 159.3 672.3 161.0 673.4 162.7C674.5 164.4 675.6 166.1 676.7 167.9C677.7 169.6 678.9 171.5 680.0 173.4C681.0 175.2 682.1 177.1 683.2 179.0C684.2 181.0 685.3 183.0 686.3 184.9C687.3 186.8 688.2 188.6 689.1 190.5C690.0 192.3 690.9 194.3 691.8 196.2C692.7 198.1 693.5 200.0 694.3 201.9C695.1 203.8 695.9 205.6 696.6 207.5C697.4 209.4 698.0 211.1 698.7 213.2C699.5 215.2 700.3 217.7 701.0 219.9C701.7 222.1 702.4 224.1 703.0 226.2C703.6 228.2 704.1 230.2 704.6 232.3C705.1 234.4 705.7 236.7 706.1 238.8C706.5 240.9 706.9 242.9 707.3 244.9C707.6 246.9 707.9 248.8 708.2 250.9C708.4 253.1 708.7 255.5 708.9 257.7C709.1 259.9 709.2 263.1 709.3 264.2"/>
<path stroke="rgb(236,206,84)" d="M322.1 609.9C322.2 611.0 322.6 614.2 323.0 616.5C323.4 618.7 323.8 621.2 324.3 623.3C324.7 625.4 325.1 627.1 325.6 629.1C326.2 631.1 326.7 633.2 327.4 635.3C328.0 637.4 328.8 639.8 329.5 641.9C330.2 644.0 330.9 646.0 331.7 647.9C332.4 649.8 333.1 651.6 333.9 653.5C334.8 655.5 335.7 657.6 336.7 659.6C337.6 661.6 338.6 663.7 339.5 665.6C340.5 667.5 341.4 669.2 342.5 671.1C343.5 673.1 344.7 675.2 345.9 677.3C347.1 679.3 348.4 681.3 349.6 683.3C350.9 685.3 352.2 687.3 353.5 689.3C354.9 691.2 356.4 693.3 357.7 695.1C359.0 696.9 360.0 698.3 361.3 700.0C362.6 701.7 364.2 703.6 365.6 705.3C367.0 707.1 368.3 708.6 369.8 710.2C371.2 711.8 372.6 713.4 374.2 715.1C375.8 716.8 377.7 718.8 379.3 720.3C380.9 721.9 382.3 723.3 383.9 724.7C385.4 726.1 386.9 727.5 388.5 728.9C390.1 730.2 391.7 731.6 393.5 733.0C395.2 734.4 397.2 736.0 399.0 737.3C400.7 738.6 402.2 739.7 404.0 741.0C405.9 742.3 408.1 743.7 410.1 745.1C412.2 746.4 414.4 747.7 416.4 748.9C418.4 750.1 420.5 751.3 422.4 752.3C424.4 753.4 426.0 754.2 428.1 755.2C430.1 756.3 432.6 757.4 434.7 758.4C436.9 759.4 438.7 760.2 440.8 761.0C442.9 761.9 444.9 762.7 447.1 763.5C449.3 764.3 451.7 765.1 454.1 765.9C456.4 766.7 459.0 767.5 461.2 768.1C463.4 768.7 465.2 769.2 467.3 769.7C469.5 770.3 471.8 770.8 474.1 771.3C476.5 771.8 479.0 772.3 481.5 772.7C483.9 773.1 486.4 773.5 488.8 773.8C491.3 774.1 493.7 774.4 496.2 774.6C498.7 774.9 500.9 775.0 503.7 775.2C506.4 775.3 509.6 775.4 512.6 775.4C515.6 775.4 518.8 775.3 521.5 775.2C524.3 775.0 526.5 774.9 529.0 774.6C531.5 774.4 533.9 774.1 536.4 773.8C538.8 773.5 541.3 773.1 543.7 772.7C546.2 772.3 548.7 771.8 551.1 771.3C553.4 770.8 555.7 770.3 557.9 769.7C560.0 769.2 561.8 768.7 564.0 768.1C566.2 767.5 568.8 766.7 571.1 765.9C573.5 765.1 575.9 764.3 578.1 763.5C580.3 762.7 582.3 761.9 584.4 761.0C586.5 760.2 588.3 759.4 590.5 758.4C592.6 757.4 595.1 756.3 597.1 755.2C599.2 754.2 600.8 753.4 602.8 752.3C604.7 751.3 606.8 750.1 608.8 748.9C610.8 747.7 613.0 746.4 615.1 745.1C617.1 743.7 619.3 742.3 621.2 741.0C623.0 739.7 624.5 738.6 626.2 737.3C628.0 736.0 630.0 734.4 631.7 733.0C633.5 731.6 635.1 730.2 636.7 728.9C638.3 727.5 639.8 726.1 641.3 724.7C642.9 723.3 644.3 721.9 645.9 720.3C647.5 718.8 649.4 716.8 651.0 715.1C652.6 713.4 654.0 711.8 655.4 710.2C656.9 708.6 658.2 707.1 659.6 705.3C661.0 703.6 662.6 701.7 663.9 700.0C665.2 698.3 666.2 696.9 667.5 695.1C668.8 693.3 670.3 691.2 671.7 689.3C673.0 687.3 674.3 685.3 675.6 683.3C676.8 681.3 678.1 679.3 679.3 677.3C680.5 675.2 681.7 673.1 682.7 671.1C683.8 669.2 684.7 667.5 685.7 665.6C686.6 663.7 687.6 661.6 688.5 659.6C689.5 657.6 690.4 655.5 691.3 653.5C692.1 651.6 692.8 649.8 693.5 647.9C694.3 646.0 695.0 644.0 695.7 641.9C696.4 639.8 697.2 637.4 697.8 635.3C698.5 633.2 699.0 631.1 699.6 629.1C700.1 627.1 700.5 625.4 700.9 623.3C701.4 621.2 701.8 618.7 702.2 616.5C702.6 614.2 703.0 611.0 703.1 609.9M321.4 258.0C321.5 256.9 321.9 253.6 322.3 251.4C322.7 249.1 323.1 246.6 323.6 244.5C324.0 242.4 324.4 240.7 325.0 238.6C325.5 236.6 326.0 234.6 326.7 232.4C327.3 230.3 328.1 227.9 328.8 225.8C329.5 223.7 330.3 221.7 331.0 219.8C331.8 217.8 332.5 216.1 333.3 214.1C334.1 212.1 335.1 210.0 336.0 208.0C337.0 205.9 338.0 203.9 338.9 202.0C339.9 200.0 340.8 198.3 341.9 196.4C342.9 194.4 344.2 192.3 345.4 190.2C346.6 188.2 347.8 186.2 349.1 184.1C350.4 182.1 351.7 180.1 353.0 178.2C354.4 176.2 355.9 174.1 357.2 172.3C358.5 170.5 359.5 169.1 360.8 167.4C362.2 165.7 363.7 163.7 365.2 162.0C366.6 160.3 367.9 158.7 369.3 157.1C370.8 155.5 372.2 153.9 373.8 152.2C375.4 150.5 377.3 148.5 378.9 146.9C380.6 145.3 382.0 144.0 383.5 142.6C385.1 141.1 386.6 139.8 388.2 138.4C389.8 137.0 391.4 135.6 393.2 134.2C394.9 132.8 396.9 131.2 398.7 129.9C400.4 128.6 401.9 127.5 403.8 126.2C405.6 124.9 407.8 123.5 409.9 122.1C412.0 120.8 414.1 119.5 416.2 118.2C418.3 117.0 420.3 115.9 422.2 114.8C424.2 113.8 425.9 112.9 427.9 111.9C430.0 110.9 432.5 109.7 434.6 108.7C436.7 107.8 438.6 106.9 440.7 106.1C442.8 105.3 444.8 104.5 447.0 103.6C449.2 102.8 451.6 102.0 454.0 101.2C456.4 100.4 458.9 99.7 461.1 99.0C463.3 98.4 465.1 97.9 467.3 97.4C469.5 96.8 471.8 96.3 474.1 95.8C476.5 95.3 479.0 94.8 481.4 94.4C483.9 94.0 486.3 93.6 488.8 93.3C491.3 93.0 493.7 92.7 496.2 92.5C498.7 92.2 500.9 92.1 503.7 91.9C506.4 91.8 509.6 91.7 512.6 91.7C515.6 91.7 518.8 91.8 521.5 91.9C524.3 92.1 526.5 92.2 529.0 92.5C531.5 92.7 533.9 93.0 536.4 93.3C538.9 93.6 541.3 94.0 543.8 94.4C546.2 94.8 548.7 95.3 551.1 95.8C553.4 96.3 555.7 96.8 557.9 97.4C560.1 97.9 561.9 98.4 564.1 99.0C566.3 99.6 568.8 100.4 571.2 101.2C573.5 102.0 576.0 102.8 578.2 103.6C580.4 104.5 582.4 105.2 584.5 106.1C586.5 106.9 588.4 107.7 590.5 108.7C592.6 109.7 595.2 110.9 597.2 111.9C599.3 112.9 600.9 113.8 602.9 114.8C604.8 115.9 606.9 117.0 608.9 118.2C611.0 119.4 613.1 120.8 615.2 122.1C617.3 123.4 619.4 124.9 621.3 126.2C623.2 127.5 624.6 128.5 626.4 129.9C628.1 131.2 630.1 132.7 631.9 134.1C633.6 135.6 635.2 136.9 636.9 138.3C638.5 139.7 640.0 141.1 641.5 142.5C643.1 143.9 644.5 145.3 646.1 146.8C647.7 148.4 649.6 150.4 651.2 152.1C652.8 153.8 654.2 155.4 655.7 157.0C657.1 158.6 658.4 160.2 659.8 161.9C661.2 163.6 662.8 165.6 664.1 167.3C665.5 169.0 666.5 170.4 667.8 172.1C669.1 173.9 670.6 176.0 671.9 178.0C673.3 180.0 674.6 182.0 675.9 184.0C677.1 186.0 678.4 188.0 679.6 190.0C680.8 192.1 682.0 194.2 683.0 196.2C684.1 198.1 685.0 199.8 686.0 201.8C686.9 203.7 687.9 205.7 688.9 207.7C689.8 209.7 690.8 211.9 691.6 213.8C692.4 215.8 693.1 217.6 693.9 219.5C694.6 221.4 695.4 223.4 696.1 225.5C696.8 227.6 697.6 230.0 698.2 232.1C698.8 234.3 699.4 236.3 699.9 238.3C700.4 240.3 700.8 242.1 701.3 244.2C701.7 246.3 702.2 248.8 702.6 251.0C702.9 253.3 703.3 256.5 703.5 257.6"/>
<path stroke="rgb(236,172,88)" d="M328.2 616.2C328.4 617.3 329.1 620.6 329.6 622.7C330.1 624.9 330.7 626.8 331.3 629.0C331.9 631.1 332.7 633.5 333.4 635.6C334.2 637.8 334.9 639.8 335.8 641.9C336.6 644.0 337.5 646.0 338.4 648.1C339.3 650.1 340.2 652.1 341.2 654.1C342.2 656.1 343.3 658.1 344.3 660.1C345.4 662.1 346.6 664.1 347.7 666.0C348.8 667.8 349.7 669.4 351.0 671.3C352.2 673.2 353.7 675.4 355.0 677.3C356.4 679.3 357.7 681.0 359.0 682.9C360.4 684.7 361.9 686.6 363.2 688.3C364.6 689.9 365.8 691.4 367.2 693.0C368.5 694.6 369.8 696.0 371.3 697.6C372.8 699.2 374.4 701.0 376.0 702.6C377.6 704.2 379.3 705.8 381.0 707.4C382.7 709.0 384.4 710.5 386.1 712.0C387.8 713.6 389.7 715.1 391.4 716.5C393.1 717.8 394.5 718.9 396.1 720.2C397.8 721.4 399.6 722.7 401.4 724.0C403.3 725.3 405.3 726.6 407.2 727.8C409.2 729.1 411.2 730.3 413.2 731.5C415.1 732.6 416.9 733.6 418.8 734.6C420.6 735.6 422.3 736.4 424.2 737.4C426.2 738.4 428.4 739.4 430.5 740.4C432.7 741.3 434.8 742.2 437.0 743.1C439.2 744.0 441.4 744.8 443.5 745.6C445.6 746.3 447.6 747.0 449.6 747.6C451.6 748.3 453.4 748.8 455.6 749.4C457.7 750.0 460.1 750.6 462.3 751.2C464.6 751.8 466.9 752.3 469.2 752.8C471.5 753.2 473.8 753.7 476.1 754.1C478.4 754.5 480.7 754.8 483.1 755.2C485.4 755.5 487.7 755.8 490.1 756.0C492.4 756.2 494.7 756.5 497.1 756.6C499.4 756.8 501.5 756.9 504.1 757.0C506.7 757.1 509.8 757.2 512.6 757.2C515.4 757.2 518.5 757.1 521.1 757.0C523.7 756.9 525.8 756.8 528.1 756.6C530.5 756.5 532.8 756.2 535.1 756.0C537.5 755.8 539.8 755.5 542.1 755.2C544.5 754.8 546.8 754.5 549.1 754.1C551.4 753.7 553.7 753.2 556.0 752.8C558.3 752.3 560.6 751.8 562.9 751.2C565.1 750.6 567.5 750.0 569.6 749.4C571.8 748.8 573.6 748.3 575.6 747.6C577.6 747.0 579.6 746.3 581.7 745.6C583.8 744.8 586.0 744.0 588.2 743.1C590.4 742.2 592.5 741.3 594.7 740.4C596.8 739.4 599.0 738.4 601.0 737.4C602.9 736.4 604.6 735.6 606.4 734.6C608.3 733.6 610.1 732.6 612.0 731.5C614.0 730.3 616.0 729.1 618.0 727.8C619.9 726.6 621.9 725.3 623.8 724.0C625.6 722.7 627.4 721.4 629.1 720.2C630.7 718.9 632.1 717.8 633.8 716.5C635.5 715.1 637.4 713.6 639.1 712.0C640.8 710.5 642.5 709.0 644.2 707.4C645.9 705.8 647.6 704.2 649.2 702.6C650.8 701.0 652.4 699.2 653.9 697.6C655.4 696.0 656.7 694.6 658.0 693.0C659.4 691.4 660.6 689.9 662.0 688.3C663.3 686.6 664.8 684.7 666.2 682.9C667.5 681.0 668.8 679.3 670.2 677.3C671.5 675.4 673.0 673.2 674.2 671.3C675.5 669.4 676.4 667.8 677.5 666.0C678.6 664.1 679.8 662.1 680.9 660.1C681.9 658.1 683.0 656.1 684.0 654.1C685.0 652.1 685.9 650.1 686.8 648.1C687.7 646.0 688.6 644.0 689.4 641.9C690.3 639.8 691.0 637.8 691.8 635.6C692.5 633.5 693.3 631.1 693.9 629.0C694.5 626.8 695.1 624.9 695.6 622.7C696.1 620.6 696.8 617.3 697.0 616.2M327.5 251.5C327.7 250.5 328.4 247.1 328.9 245.0C329.5 242.9 330.0 240.9 330.6 238.8C331.3 236.6 332.0 234.2 332.8 232.1C333.5 229.9 334.3 227.8 335.1 225.8C336.0 223.7 336.8 221.6 337.8 219.5C338.7 217.5 339.6 215.5 340.6 213.4C341.6 211.4 342.7 209.4 343.8 207.4C344.8 205.5 346.0 203.4 347.1 201.5C348.2 199.7 349.2 198.1 350.4 196.2C351.7 194.3 353.1 192.0 354.5 190.1C355.8 188.2 357.1 186.4 358.5 184.5C359.9 182.7 361.4 180.8 362.7 179.1C364.1 177.4 365.4 175.9 366.7 174.4C368.1 172.8 369.4 171.3 370.8 169.7C372.3 168.1 374.0 166.4 375.6 164.7C377.2 163.1 378.9 161.5 380.6 159.9C382.3 158.3 384.0 156.7 385.8 155.2C387.5 153.7 389.4 152.1 391.1 150.7C392.8 149.4 394.2 148.3 395.8 147.1C397.5 145.8 399.3 144.5 401.2 143.2C403.0 141.9 405.0 140.6 407.0 139.3C408.9 138.1 411.0 136.8 412.9 135.7C414.9 134.6 416.7 133.5 418.6 132.5C420.4 131.6 422.1 130.7 424.0 129.7C426.0 128.8 428.3 127.7 430.4 126.8C432.5 125.8 434.7 124.9 436.9 124.0C439.0 123.2 441.3 122.3 443.4 121.6C445.5 120.8 447.5 120.1 449.5 119.5C451.6 118.9 453.4 118.3 455.5 117.7C457.6 117.1 460.0 116.5 462.3 115.9C464.6 115.4 466.9 114.8 469.2 114.4C471.5 113.9 473.8 113.4 476.1 113.0C478.4 112.6 480.7 112.3 483.0 111.9C485.4 111.6 487.7 111.3 490.1 111.1C492.4 110.9 494.7 110.6 497.1 110.5C499.4 110.3 501.5 110.2 504.1 110.1C506.7 110.0 509.8 109.9 512.6 109.9C515.4 109.9 518.5 110.0 521.1 110.1C523.7 110.2 525.8 110.3 528.1 110.5C530.5 110.6 532.8 110.9 535.1 111.1C537.5 111.3 539.8 111.6 542.1 111.9C544.5 112.3 546.8 112.6 549.1 113.0C551.4 113.4 553.7 113.9 556.0 114.4C558.3 114.8 560.6 115.3 562.9 115.9C565.2 116.5 567.6 117.1 569.7 117.7C571.8 118.3 573.6 118.8 575.6 119.5C577.6 120.1 579.6 120.8 581.7 121.5C583.8 122.3 586.1 123.2 588.3 124.0C590.4 124.9 592.6 125.8 594.7 126.8C596.9 127.7 599.1 128.8 601.1 129.7C603.0 130.7 604.7 131.5 606.5 132.5C608.4 133.5 610.2 134.5 612.2 135.7C614.1 136.8 616.2 138.1 618.1 139.3C620.1 140.6 622.1 141.9 623.9 143.2C625.8 144.5 627.5 145.7 629.2 147.0C630.9 148.3 632.3 149.3 633.9 150.7C635.6 152.0 637.5 153.6 639.3 155.1C641.0 156.7 642.7 158.2 644.4 159.8C646.1 161.4 647.8 163.0 649.4 164.6C651.0 166.3 652.7 168.0 654.2 169.6C655.6 171.2 656.9 172.7 658.3 174.2C659.6 175.8 660.9 177.3 662.2 179.0C663.6 180.7 665.1 182.6 666.4 184.4C667.8 186.2 669.1 188.0 670.4 189.9C671.8 191.9 673.3 194.1 674.5 196.0C675.7 197.9 676.7 199.5 677.8 201.3C678.9 203.2 680.1 205.2 681.2 207.2C682.2 209.2 683.3 211.2 684.3 213.2C685.3 215.2 686.2 217.3 687.1 219.3C688.1 221.3 688.9 223.4 689.8 225.5C690.6 227.6 691.4 229.6 692.1 231.8C692.9 234.0 693.6 236.3 694.3 238.5C694.9 240.6 695.4 242.6 696.0 244.7C696.5 246.8 697.2 250.1 697.4 251.2"/>
<path stroke="rgb(233,144,90)" d="M334.7 622.6C335.0 623.6 335.9 626.6 336.6 628.7C337.2 630.7 338.0 632.8 338.8 634.8C339.6 636.8 340.4 638.9 341.3 640.8C342.1 642.7 342.9 644.4 343.9 646.3C344.8 648.3 346.0 650.5 347.1 652.4C348.2 654.4 349.2 656.2 350.3 658.1C351.5 659.9 352.6 661.8 353.8 663.6C355.0 665.4 356.3 667.2 357.5 669.0C358.8 670.7 360.1 672.5 361.5 674.2C362.8 675.9 364.2 677.6 365.6 679.3C367.0 681.0 368.4 682.6 369.9 684.2C371.4 685.9 372.9 687.5 374.4 689.0C376.0 690.6 377.5 692.1 379.1 693.6C380.7 695.2 382.4 696.6 384.0 698.1C385.7 699.5 387.4 701.0 389.1 702.4C390.8 703.7 392.6 705.1 394.3 706.4C396.1 707.8 397.9 709.0 399.7 710.3C401.5 711.5 403.5 712.8 405.3 713.9C407.1 715.1 408.7 716.1 410.6 717.2C412.5 718.3 414.8 719.5 416.8 720.6C418.8 721.7 420.7 722.6 422.8 723.6C424.8 724.5 426.8 725.4 428.8 726.3C430.9 727.2 432.9 728.0 435.0 728.8C437.1 729.6 439.2 730.4 441.3 731.1C443.4 731.8 445.5 732.5 447.7 733.1C449.8 733.8 452.0 734.4 454.1 734.9C456.2 735.5 458.0 735.9 460.1 736.4C462.3 736.9 464.9 737.5 467.2 737.9C469.4 738.3 471.6 738.7 473.8 739.1C476.0 739.4 478.2 739.7 480.4 740.0C482.6 740.3 484.9 740.6 487.1 740.8C489.3 741.0 491.5 741.2 493.8 741.4C496.0 741.5 498.3 741.7 500.5 741.8C502.7 741.9 505.2 741.9 507.2 742.0C509.2 742.0 510.8 742.0 512.6 742.0C514.4 742.0 516.0 742.0 518.0 742.0C520.0 741.9 522.5 741.9 524.7 741.8C526.9 741.7 529.2 741.5 531.4 741.4C533.7 741.2 535.9 741.0 538.1 740.8C540.3 740.6 542.6 740.3 544.8 740.0C547.0 739.7 549.2 739.4 551.4 739.1C553.6 738.7 555.8 738.3 558.0 737.9C560.3 737.5 562.9 736.9 565.1 736.4C567.2 735.9 569.0 735.5 571.1 734.9C573.2 734.4 575.4 733.8 577.5 733.1C579.7 732.5 581.8 731.8 583.9 731.1C586.0 730.4 588.1 729.6 590.2 728.8C592.3 728.0 594.3 727.2 596.4 726.3C598.4 725.4 600.4 724.5 602.4 723.6C604.5 722.6 606.4 721.7 608.4 720.6C610.4 719.5 612.7 718.3 614.6 717.2C616.5 716.1 618.1 715.1 619.9 713.9C621.7 712.8 623.7 711.5 625.5 710.3C627.3 709.0 629.1 707.8 630.9 706.4C632.6 705.1 634.4 703.7 636.1 702.4C637.8 701.0 639.5 699.5 641.2 698.1C642.8 696.6 644.5 695.2 646.1 693.6C647.7 692.1 649.2 690.6 650.8 689.0C652.3 687.5 653.8 685.9 655.3 684.2C656.8 682.6 658.2 681.0 659.6 679.3C661.0 677.6 662.4 675.9 663.7 674.2C665.1 672.5 666.4 670.7 667.7 669.0C668.9 667.2 670.2 665.4 671.4 663.6C672.6 661.8 673.7 659.9 674.9 658.1C676.0 656.2 677.0 654.4 678.1 652.4C679.2 650.5 680.4 648.3 681.3 646.3C682.3 644.4 683.1 642.7 683.9 640.8C684.8 638.9 685.6 636.8 686.4 634.8C687.2 632.8 688.0 630.7 688.6 628.7C689.3 626.6 690.2 623.6 690.5 622.6M334.0 245.1C334.3 244.1 335.2 241.1 335.9 239.0C336.6 237.0 337.4 234.9 338.1 232.9C338.9 230.8 339.8 228.8 340.7 226.8C341.5 224.9 342.3 223.2 343.3 221.3C344.2 219.3 345.4 217.1 346.5 215.1C347.6 213.1 348.6 211.3 349.8 209.4C350.9 207.6 352.1 205.7 353.3 203.9C354.5 202.1 355.7 200.3 357.0 198.5C358.3 196.7 359.6 194.9 361.0 193.2C362.3 191.5 363.7 189.8 365.1 188.1C366.5 186.4 368.0 184.8 369.5 183.1C371.0 181.5 372.5 179.9 374.0 178.3C375.6 176.7 377.1 175.2 378.7 173.7C380.4 172.1 382.0 170.6 383.7 169.2C385.3 167.7 387.0 166.3 388.8 164.9C390.5 163.5 392.2 162.1 394.0 160.8C395.8 159.5 397.6 158.2 399.4 156.9C401.3 155.7 403.2 154.4 405.0 153.3C406.8 152.1 408.4 151.1 410.4 150.0C412.3 148.9 414.5 147.6 416.6 146.6C418.6 145.5 420.6 144.5 422.6 143.6C424.6 142.6 426.6 141.7 428.7 140.8C430.7 140.0 432.8 139.1 434.9 138.3C437.0 137.5 439.1 136.8 441.2 136.0C443.3 135.3 445.4 134.6 447.6 134.0C449.7 133.4 451.9 132.7 454.0 132.2C456.1 131.6 457.9 131.2 460.1 130.7C462.3 130.2 464.8 129.7 467.1 129.2C469.4 128.8 471.5 128.4 473.7 128.0C475.9 127.7 478.2 127.4 480.4 127.1C482.6 126.8 484.8 126.5 487.1 126.3C489.3 126.1 491.5 125.9 493.8 125.7C496.0 125.6 498.2 125.4 500.5 125.3C502.7 125.2 505.2 125.2 507.2 125.1C509.2 125.1 510.8 125.1 512.6 125.1C514.4 125.1 516.0 125.1 518.0 125.1C520.0 125.2 522.5 125.2 524.7 125.3C526.9 125.4 529.2 125.6 531.4 125.7C533.7 125.9 535.9 126.1 538.1 126.3C540.4 126.5 542.6 126.8 544.8 127.1C547.0 127.4 549.2 127.7 551.4 128.0C553.7 128.4 555.8 128.8 558.1 129.2C560.3 129.6 562.9 130.2 565.1 130.7C567.3 131.2 569.1 131.6 571.1 132.2C573.2 132.7 575.5 133.3 577.6 134.0C579.7 134.6 581.9 135.3 584.0 136.0C586.1 136.7 588.2 137.5 590.3 138.3C592.3 139.1 594.4 139.9 596.5 140.8C598.5 141.7 600.5 142.6 602.5 143.6C604.6 144.5 606.5 145.5 608.5 146.5C610.5 147.6 612.8 148.9 614.7 150.0C616.7 151.1 618.3 152.1 620.1 153.2C621.9 154.4 623.8 155.6 625.6 156.9C627.5 158.1 629.3 159.4 631.0 160.7C632.8 162.1 634.6 163.4 636.3 164.8C638.0 166.2 639.7 167.6 641.4 169.1C643.0 170.6 644.7 172.0 646.3 173.6C647.9 175.1 649.4 176.6 651.0 178.2C652.5 179.8 654.0 181.4 655.5 183.0C657.0 184.6 658.4 186.3 659.9 188.0C661.3 189.6 662.7 191.3 664.0 193.1C665.3 194.8 666.7 196.5 667.9 198.3C669.2 200.1 670.5 201.9 671.7 203.7C672.9 205.5 674.0 207.4 675.2 209.2C676.3 211.1 677.4 212.9 678.4 214.9C679.5 216.9 680.7 219.1 681.6 221.0C682.6 223.0 683.4 224.6 684.2 226.6C685.1 228.5 686.0 230.6 686.8 232.6C687.5 234.6 688.3 236.7 689.0 238.8C689.7 240.8 690.5 243.8 690.9 244.8"/>
<path stroke="rgb(228,118,92)" d="M341.8 629.1C342.3 630.1 343.5 633.2 344.3 635.1C345.2 637.1 346.1 639.1 347.1 641.0C348.1 642.9 349.0 644.7 350.1 646.6C351.1 648.4 352.2 650.2 353.3 652.0C354.4 653.8 355.5 655.6 356.7 657.3C357.9 659.0 359.1 660.8 360.4 662.4C361.7 664.1 363.0 665.8 364.3 667.4C365.6 669.1 367.0 670.7 368.4 672.3C369.8 673.9 371.2 675.4 372.7 676.9C374.1 678.5 375.6 680.0 377.1 681.4C378.7 682.9 380.2 684.4 381.8 685.8C383.4 687.2 385.0 688.6 386.6 689.9C388.3 691.3 389.9 692.6 391.6 693.9C393.3 695.1 395.1 696.4 396.8 697.6C398.5 698.8 400.0 699.8 401.8 701.0C403.6 702.1 405.6 703.4 407.5 704.5C409.4 705.6 411.2 706.6 413.1 707.6C415.0 708.6 416.9 709.6 418.8 710.5C420.7 711.4 422.7 712.3 424.6 713.2C426.6 714.0 428.6 714.8 430.6 715.6C432.6 716.4 434.6 717.1 436.6 717.8C438.6 718.5 440.6 719.2 442.7 719.8C444.7 720.4 446.8 721.0 448.9 721.5C450.9 722.1 453.0 722.6 455.1 723.1C457.2 723.6 459.3 724.0 461.4 724.4C463.5 724.9 465.6 725.2 467.7 725.6C469.8 725.9 471.9 726.3 474.1 726.6C476.2 726.9 478.3 727.1 480.4 727.4C482.6 727.6 484.7 727.8 486.9 728.0C489.0 728.2 491.1 728.3 493.3 728.5C495.4 728.6 497.6 728.7 499.7 728.8C501.9 728.9 504.0 729.0 506.2 729.0C508.3 729.1 510.5 729.1 512.6 729.1C514.7 729.1 516.9 729.1 519.0 729.0C521.2 729.0 523.3 728.9 525.5 728.8C527.6 728.7 529.8 728.6 531.9 728.5C534.1 728.3 536.2 728.2 538.3 728.0C540.5 727.8 542.6 727.6 544.8 727.4C546.9 727.1 549.0 726.9 551.1 726.6C553.3 726.3 555.4 725.9 557.5 725.6C559.6 725.2 561.7 724.9 563.8 724.4C565.9 724.0 568.0 723.6 570.1 723.1C572.2 722.6 574.3 722.1 576.3 721.5C578.4 721.0 580.5 720.4 582.5 719.8C584.6 719.2 586.6 718.5 588.6 717.8C590.6 717.1 592.6 716.4 594.6 715.6C596.6 714.8 598.6 714.0 600.6 713.2C602.5 712.3 604.5 711.4 606.4 710.5C608.3 709.6 610.2 708.6 612.1 707.6C614.0 706.6 615.8 705.6 617.7 704.5C619.6 703.4 621.6 702.1 623.4 701.0C625.2 699.8 626.7 698.8 628.4 697.6C630.1 696.4 631.9 695.1 633.6 693.9C635.3 692.6 636.9 691.3 638.6 689.9C640.2 688.6 641.8 687.2 643.4 685.8C645.0 684.4 646.5 682.9 648.1 681.4C649.6 680.0 651.1 678.5 652.5 676.9C654.0 675.4 655.4 673.9 656.8 672.3C658.2 670.7 659.6 669.1 660.9 667.4C662.2 665.8 663.5 664.1 664.8 662.4C666.1 660.8 667.3 659.0 668.5 657.3C669.7 655.6 670.8 653.8 671.9 652.0C673.0 650.2 674.1 648.4 675.1 646.6C676.2 644.7 677.1 642.9 678.1 641.0C679.1 639.1 680.0 637.1 680.9 635.1C681.7 633.2 682.9 630.1 683.4 629.1M341.2 238.6C341.6 237.5 342.9 234.5 343.7 232.5C344.6 230.5 345.5 228.5 346.5 226.6C347.5 224.7 348.4 222.8 349.5 221.0C350.5 219.1 351.6 217.3 352.7 215.5C353.8 213.7 355.0 211.9 356.2 210.2C357.4 208.4 358.6 206.7 359.9 205.0C361.2 203.3 362.5 201.6 363.8 200.0C365.1 198.3 366.5 196.7 367.9 195.1C369.3 193.5 370.8 191.9 372.2 190.4C373.7 188.9 375.2 187.4 376.7 185.9C378.3 184.4 379.8 183.0 381.4 181.5C383.0 180.1 384.6 178.7 386.3 177.4C387.9 176.0 389.6 174.7 391.3 173.4C393.0 172.1 394.8 170.8 396.5 169.6C398.2 168.4 399.7 167.4 401.5 166.3C403.3 165.1 405.4 163.8 407.3 162.7C409.2 161.6 411.0 160.6 412.9 159.6C414.8 158.6 416.7 157.6 418.6 156.7C420.5 155.7 422.5 154.9 424.5 154.0C426.4 153.1 428.4 152.3 430.4 151.6C432.4 150.8 434.4 150.0 436.4 149.3C438.5 148.6 440.5 148.0 442.6 147.3C444.6 146.7 446.7 146.1 448.8 145.6C450.8 145.0 452.9 144.5 455.0 144.0C457.1 143.5 459.2 143.1 461.3 142.7C463.4 142.2 465.5 141.9 467.7 141.5C469.8 141.2 471.9 140.8 474.0 140.5C476.2 140.2 478.3 140.0 480.4 139.7C482.6 139.5 484.7 139.3 486.8 139.1C489.0 138.9 491.1 138.8 493.3 138.6C495.4 138.5 497.6 138.4 499.7 138.3C501.9 138.2 504.0 138.1 506.2 138.1C508.3 138.0 510.5 138.0 512.6 138.0C514.7 138.0 516.9 138.0 519.0 138.1C521.2 138.1 523.3 138.2 525.5 138.3C527.6 138.4 529.8 138.5 531.9 138.6C534.1 138.8 536.2 138.9 538.4 139.1C540.5 139.3 542.6 139.5 544.8 139.7C546.9 140.0 549.0 140.2 551.2 140.5C553.3 140.8 555.4 141.2 557.5 141.5C559.6 141.9 561.8 142.2 563.9 142.7C566.0 143.1 568.1 143.5 570.2 144.0C572.2 144.5 574.3 145.0 576.4 145.6C578.5 146.1 580.5 146.7 582.6 147.3C584.6 148.0 586.7 148.6 588.7 149.3C590.7 150.0 592.7 150.8 594.7 151.5C596.7 152.3 598.7 153.1 600.7 154.0C602.6 154.8 604.6 155.7 606.5 156.6C608.4 157.6 610.3 158.5 612.2 159.5C614.1 160.5 615.9 161.6 617.8 162.7C619.7 163.8 621.8 165.1 623.6 166.2C625.4 167.4 626.9 168.4 628.6 169.6C630.3 170.7 632.1 172.0 633.7 173.3C635.4 174.6 637.1 175.9 638.8 177.3C640.4 178.6 642.0 180.0 643.6 181.4C645.2 182.9 646.7 184.3 648.3 185.8C649.8 187.3 651.3 188.8 652.8 190.3C654.2 191.8 655.7 193.4 657.1 195.0C658.5 196.6 659.8 198.2 661.2 199.8C662.5 201.5 663.8 203.1 665.1 204.8C666.3 206.5 667.6 208.2 668.8 210.0C669.9 211.7 671.1 213.5 672.2 215.3C673.3 217.1 674.4 218.9 675.4 220.8C676.5 222.6 677.5 224.5 678.4 226.4C679.4 228.3 680.3 230.2 681.2 232.2C682.1 234.2 683.3 237.3 683.7 238.3"/>
<path stroke="rgb(220,98,92)" d="M349.9 635.9C350.4 636.8 351.8 639.4 352.8 641.2C353.8 642.9 354.8 644.7 355.9 646.4C357.0 648.2 358.1 649.9 359.3 651.6C360.5 653.2 361.7 654.9 362.9 656.5C364.2 658.1 365.5 659.7 366.8 661.3C368.1 662.9 369.5 664.4 370.8 665.9C372.2 667.4 373.6 668.9 375.1 670.4C376.5 671.8 378.0 673.2 379.5 674.6C381.0 676.0 382.5 677.4 384.1 678.7C385.7 680.0 387.3 681.3 388.9 682.6C390.5 683.9 392.2 685.1 393.8 686.3C395.5 687.5 397.2 688.6 398.9 689.7C400.6 690.9 402.4 692.0 404.1 693.0C405.9 694.1 407.7 695.1 409.5 696.1C411.3 697.0 413.1 698.0 415.0 698.9C416.8 699.8 418.7 700.7 420.6 701.5C422.5 702.3 424.4 703.1 426.3 703.9C428.2 704.6 430.1 705.4 432.1 706.1C434.0 706.7 436.0 707.4 437.9 708.0C439.9 708.6 441.9 709.2 443.9 709.7C445.9 710.3 447.9 710.8 449.9 711.3C451.9 711.8 453.9 712.2 455.9 712.6C457.9 713.0 460.0 713.4 462.0 713.8C464.0 714.1 466.1 714.4 468.1 714.7C470.2 715.0 472.2 715.3 474.3 715.6C476.3 715.8 478.4 716.0 480.4 716.2C482.5 716.4 484.5 716.6 486.6 716.8C488.7 716.9 490.7 717.0 492.8 717.2C494.8 717.3 496.9 717.4 499.0 717.5C501.0 717.5 502.9 717.6 505.2 717.6C507.4 717.7 510.1 717.7 512.6 717.7C515.1 717.7 517.8 717.7 520.0 717.6C522.3 717.6 524.2 717.5 526.2 717.5C528.3 717.4 530.4 717.3 532.4 717.2C534.5 717.0 536.5 716.9 538.6 716.8C540.7 716.6 542.7 716.4 544.8 716.2C546.8 716.0 548.9 715.8 550.9 715.6C553.0 715.3 555.0 715.0 557.1 714.7C559.1 714.4 561.2 714.1 563.2 713.8C565.2 713.4 567.3 713.0 569.3 712.6C571.3 712.2 573.3 711.8 575.3 711.3C577.3 710.8 579.3 710.3 581.3 709.7C583.3 709.2 585.3 708.6 587.3 708.0C589.2 707.4 591.2 706.7 593.1 706.1C595.1 705.4 597.0 704.6 598.9 703.9C600.8 703.1 602.7 702.3 604.6 701.5C606.5 700.7 608.4 699.8 610.2 698.9C612.1 698.0 613.9 697.0 615.7 696.1C617.5 695.1 619.3 694.1 621.1 693.0C622.8 692.0 624.6 690.9 626.3 689.7C628.0 688.6 629.7 687.5 631.4 686.3C633.0 685.1 634.7 683.9 636.3 682.6C637.9 681.3 639.5 680.0 641.1 678.7C642.7 677.4 644.2 676.0 645.7 674.6C647.2 673.2 648.7 671.8 650.1 670.4C651.6 668.9 653.0 667.4 654.4 665.9C655.7 664.4 657.1 662.9 658.4 661.3C659.7 659.7 661.0 658.1 662.3 656.5C663.5 654.9 664.7 653.2 665.9 651.6C667.1 649.9 668.2 648.2 669.3 646.4C670.4 644.7 671.4 642.9 672.4 641.2C673.4 639.4 674.8 636.8 675.3 635.9M349.4 231.7C349.8 230.8 351.2 228.2 352.2 226.4C353.2 224.6 354.3 222.8 355.4 221.1C356.5 219.3 357.6 217.6 358.8 215.9C360.0 214.2 361.2 212.6 362.4 210.9C363.7 209.3 365.0 207.7 366.3 206.1C367.6 204.5 369.0 203.0 370.4 201.4C371.8 199.9 373.2 198.4 374.6 197.0C376.1 195.5 377.6 194.1 379.1 192.7C380.6 191.3 382.2 189.9 383.7 188.6C385.3 187.3 386.9 186.0 388.5 184.7C390.1 183.4 391.8 182.2 393.5 181.0C395.2 179.8 396.9 178.6 398.6 177.5C400.3 176.4 402.1 175.3 403.8 174.2C405.6 173.1 407.4 172.1 409.2 171.1C411.0 170.2 412.9 169.2 414.7 168.3C416.6 167.4 418.5 166.5 420.4 165.7C422.3 164.8 424.2 164.0 426.1 163.3C428.0 162.5 429.9 161.8 431.9 161.1C433.8 160.4 435.8 159.8 437.8 159.1C439.8 158.5 441.7 157.9 443.7 157.4C445.7 156.8 447.7 156.3 449.8 155.8C451.8 155.4 453.8 154.9 455.8 154.5C457.9 154.1 459.9 153.7 461.9 153.4C464.0 153.0 466.0 152.7 468.1 152.4C470.1 152.1 472.2 151.8 474.2 151.6C476.3 151.3 478.3 151.1 480.4 150.9C482.5 150.7 484.5 150.5 486.6 150.3C488.6 150.2 490.7 150.1 492.8 149.9C494.8 149.8 496.9 149.7 499.0 149.6C501.0 149.6 502.9 149.5 505.2 149.5C507.4 149.4 510.1 149.4 512.6 149.4C515.1 149.4 517.8 149.4 520.0 149.5C522.3 149.5 524.2 149.6 526.2 149.6C528.3 149.7 530.4 149.8 532.4 149.9C534.5 150.1 536.6 150.2 538.6 150.3C540.7 150.5 542.7 150.7 544.8 150.9C546.9 151.1 548.9 151.3 551.0 151.6C553.0 151.8 555.1 152.1 557.1 152.4C559.2 152.7 561.2 153.0 563.2 153.3C565.3 153.7 567.3 154.1 569.3 154.5C571.4 154.9 573.4 155.4 575.4 155.8C577.4 156.3 579.4 156.8 581.4 157.4C583.4 157.9 585.4 158.5 587.3 159.1C589.3 159.7 591.3 160.4 593.2 161.1C595.2 161.8 597.1 162.5 599.0 163.2C600.9 164.0 602.9 164.8 604.7 165.6C606.6 166.5 608.5 167.3 610.3 168.3C612.2 169.2 614.0 170.1 615.8 171.1C617.7 172.1 619.4 173.1 621.2 174.2C623.0 175.2 624.7 176.3 626.5 177.4C628.2 178.6 629.9 179.7 631.6 180.9C633.2 182.1 634.9 183.3 636.5 184.6C638.1 185.9 639.7 187.2 641.3 188.5C642.9 189.8 644.4 191.2 645.9 192.6C647.4 194.0 648.9 195.4 650.4 196.9C651.8 198.3 653.2 199.8 654.6 201.3C656.0 202.8 657.4 204.4 658.7 205.9C660.0 207.5 661.3 209.1 662.5 210.8C663.8 212.4 665.0 214.0 666.2 215.7C667.3 217.4 668.5 219.1 669.6 220.9C670.7 222.6 671.7 224.4 672.7 226.2C673.7 227.9 675.1 230.6 675.6 231.5"/>
<path stroke="rgb(204,82,86)" d="M359.6 643.3C360.2 644.1 361.9 646.6 363.1 648.2C364.2 649.8 365.5 651.4 366.7 652.9C368.0 654.5 369.3 656.0 370.6 657.5C371.9 659.0 373.3 660.4 374.7 661.9C376.1 663.3 377.5 664.7 378.9 666.0C380.4 667.4 381.9 668.7 383.4 670.0C384.9 671.3 386.5 672.6 388.0 673.8C389.6 675.0 391.2 676.2 392.8 677.4C394.4 678.5 396.1 679.6 397.7 680.7C399.4 681.8 401.1 682.8 402.8 683.9C404.5 684.9 406.3 685.9 408.0 686.8C409.8 687.7 411.6 688.6 413.3 689.5C415.1 690.4 417.0 691.2 418.8 692.0C420.6 692.8 422.5 693.5 424.3 694.3C426.2 695.0 428.1 695.7 429.9 696.3C431.8 697.0 433.7 697.6 435.6 698.2C437.5 698.7 439.5 699.3 441.4 699.8C443.3 700.3 445.3 700.8 447.2 701.2C449.2 701.7 451.1 702.1 453.1 702.5C455.0 702.9 457.0 703.2 459.0 703.6C460.9 703.9 462.9 704.2 464.9 704.5C466.9 704.8 468.6 705.0 470.8 705.3C473.0 705.5 475.6 705.8 478.0 706.0C480.4 706.2 482.7 706.4 485.1 706.6C487.5 706.8 489.9 706.9 492.3 707.0C494.7 707.2 497.1 707.3 499.5 707.3C501.8 707.4 504.4 707.5 506.6 707.5C508.8 707.5 510.6 707.5 512.6 707.5C514.6 707.5 516.4 707.5 518.6 707.5C520.8 707.5 523.4 707.4 525.7 707.3C528.1 707.3 530.5 707.2 532.9 707.0C535.3 706.9 537.7 706.8 540.1 706.6C542.5 706.4 544.8 706.2 547.2 706.0C549.6 705.8 552.2 705.5 554.4 705.3C556.6 705.0 558.3 704.8 560.3 704.5C562.3 704.2 564.3 703.9 566.2 703.6C568.2 703.2 570.2 702.9 572.1 702.5C574.1 702.1 576.0 701.7 578.0 701.2C579.9 700.8 581.9 700.3 583.8 699.8C585.7 699.3 587.7 698.7 589.6 698.2C591.5 697.6 593.4 697.0 595.3 696.3C597.1 695.7 599.0 695.0 600.9 694.3C602.7 693.5 604.6 692.8 606.4 692.0C608.2 691.2 610.1 690.4 611.9 689.5C613.6 688.6 615.4 687.7 617.2 686.8C618.9 685.9 620.7 684.9 622.4 683.9C624.1 682.8 625.8 681.8 627.5 680.7C629.1 679.6 630.8 678.5 632.4 677.4C634.0 676.2 635.6 675.0 637.2 673.8C638.7 672.6 640.3 671.3 641.8 670.0C643.3 668.7 644.8 667.4 646.3 666.0C647.7 664.7 649.1 663.3 650.5 661.9C651.9 660.4 653.3 659.0 654.6 657.5C655.9 656.0 657.2 654.5 658.5 652.9C659.7 651.4 661.0 649.8 662.1 648.2C663.3 646.6 665.0 644.1 665.6 643.3M359.1 224.2C359.7 223.4 361.4 220.9 362.5 219.3C363.7 217.6 365.0 216.0 366.2 214.5C367.5 212.9 368.8 211.4 370.1 209.9C371.5 208.4 372.8 206.9 374.2 205.5C375.6 204.1 377.1 202.7 378.5 201.3C380.0 199.9 381.5 198.6 383.0 197.3C384.5 196.0 386.1 194.7 387.6 193.5C389.2 192.3 390.8 191.1 392.5 189.9C394.1 188.8 395.7 187.6 397.4 186.5C399.1 185.4 400.8 184.4 402.5 183.4C404.2 182.3 406.0 181.4 407.8 180.4C409.5 179.5 411.3 178.6 413.1 177.7C414.9 176.8 416.7 176.0 418.6 175.2C420.4 174.4 422.3 173.6 424.1 172.9C426.0 172.2 427.9 171.5 429.8 170.8C431.7 170.2 433.6 169.6 435.5 169.0C437.4 168.4 439.3 167.9 441.3 167.3C443.2 166.8 445.2 166.3 447.1 165.9C449.1 165.4 451.0 165.0 453.0 164.6C454.9 164.2 456.9 163.9 458.9 163.5C460.9 163.2 462.8 162.9 464.8 162.6C466.8 162.3 468.6 162.1 470.8 161.8C473.0 161.6 475.6 161.3 477.9 161.1C480.3 160.9 482.7 160.7 485.1 160.5C487.5 160.3 489.9 160.2 492.3 160.1C494.7 159.9 497.1 159.8 499.4 159.8C501.8 159.7 504.4 159.6 506.6 159.6C508.8 159.6 510.6 159.6 512.6 159.6C514.6 159.6 516.4 159.6 518.6 159.6C520.8 159.6 523.4 159.7 525.7 159.8C528.1 159.8 530.5 159.9 532.9 160.1C535.3 160.2 537.7 160.3 540.1 160.5C542.5 160.7 544.9 160.9 547.2 161.1C549.6 161.3 552.2 161.6 554.4 161.8C556.6 162.1 558.4 162.3 560.3 162.6C562.3 162.9 564.3 163.2 566.3 163.5C568.2 163.9 570.2 164.2 572.2 164.6C574.1 165.0 576.1 165.4 578.0 165.9C580.0 166.3 581.9 166.8 583.9 167.3C585.8 167.8 587.7 168.4 589.6 169.0C591.6 169.5 593.5 170.2 595.4 170.8C597.2 171.5 599.1 172.1 601.0 172.9C602.8 173.6 604.7 174.4 606.5 175.1C608.4 175.9 610.2 176.8 612.0 177.6C613.8 178.5 615.6 179.4 617.3 180.4C619.1 181.3 620.8 182.3 622.5 183.3C624.3 184.3 626.0 185.4 627.6 186.5C629.3 187.6 631.0 188.7 632.6 189.8C634.2 191.0 635.8 192.2 637.4 193.4C638.9 194.6 640.5 195.9 642.0 197.2C643.5 198.5 645.0 199.8 646.5 201.2C647.9 202.6 649.4 204.0 650.8 205.4C652.2 206.8 653.5 208.3 654.8 209.8C656.2 211.3 657.5 212.8 658.7 214.3C660.0 215.9 661.2 217.5 662.4 219.1C663.6 220.7 665.3 223.2 665.8 224.0"/>
<path stroke="rgb(176,66,76)" d="M372.5 652.1C373.2 652.8 375.1 654.9 376.6 656.4C378.2 657.9 379.9 659.6 381.7 661.2C383.4 662.7 385.2 664.2 387.1 665.7C388.9 667.1 390.7 668.5 392.6 669.9C394.5 671.2 396.6 672.6 398.4 673.7C400.3 674.9 401.9 675.9 403.8 676.9C405.6 677.9 407.6 679.0 409.6 680.0C411.6 681.0 413.8 682.0 415.9 682.9C418.0 683.9 420.2 684.7 422.4 685.6C424.5 686.4 426.7 687.2 428.9 687.9C431.1 688.6 433.4 689.3 435.6 689.9C437.9 690.5 440.1 691.1 442.4 691.6C444.6 692.2 446.9 692.7 449.2 693.1C451.5 693.6 453.8 694.0 456.1 694.4C458.4 694.7 460.7 695.1 463.0 695.4C465.3 695.7 467.6 696.0 469.9 696.2C472.2 696.5 474.5 696.7 476.8 696.9C479.1 697.1 481.4 697.3 483.7 697.4C486.0 697.6 488.3 697.7 490.7 697.8C493.0 697.9 495.3 698.0 497.6 698.1C499.9 698.2 502.0 698.2 504.5 698.2C507.0 698.3 509.9 698.3 512.6 698.3C515.3 698.3 518.2 698.3 520.7 698.2C523.2 698.2 525.3 698.2 527.6 698.1C529.9 698.0 532.2 697.9 534.5 697.8C536.9 697.7 539.2 697.6 541.5 697.4C543.8 697.3 546.1 697.1 548.4 696.9C550.7 696.7 553.0 696.5 555.3 696.2C557.6 696.0 559.9 695.7 562.2 695.4C564.5 695.1 566.8 694.7 569.1 694.4C571.4 694.0 573.7 693.6 576.0 693.1C578.3 692.7 580.6 692.2 582.8 691.6C585.1 691.1 587.3 690.5 589.6 689.9C591.8 689.3 594.1 688.6 596.3 687.9C598.5 687.2 600.7 686.4 602.8 685.6C605.0 684.7 607.2 683.9 609.3 682.9C611.4 682.0 613.6 681.0 615.6 680.0C617.6 679.0 619.6 677.9 621.4 676.9C623.3 675.9 624.9 674.9 626.8 673.7C628.6 672.6 630.7 671.2 632.6 669.9C634.5 668.5 636.3 667.1 638.1 665.7C640.0 664.2 641.8 662.7 643.5 661.2C645.3 659.6 647.0 657.9 648.6 656.4C650.1 654.9 652.0 652.8 652.7 652.1M372.0 215.3C372.7 214.6 374.6 212.5 376.2 210.9C377.7 209.4 379.5 207.7 381.2 206.2C383.0 204.6 384.8 203.1 386.7 201.6C388.5 200.2 390.4 198.8 392.3 197.4C394.2 196.1 396.2 194.7 398.1 193.5C400.0 192.4 401.6 191.4 403.5 190.3C405.4 189.3 407.3 188.3 409.3 187.2C411.3 186.2 413.5 185.2 415.7 184.3C417.8 183.3 420.0 182.4 422.1 181.6C424.3 180.8 426.5 180.0 428.8 179.3C431.0 178.5 433.2 177.9 435.5 177.2C437.7 176.6 440.0 176.0 442.2 175.5C444.5 175.0 446.8 174.5 449.1 174.0C451.4 173.5 453.7 173.1 456.0 172.8C458.3 172.4 460.6 172.0 462.9 171.7C465.2 171.4 467.5 171.1 469.8 170.9C472.1 170.6 474.4 170.4 476.8 170.2C479.1 170.0 481.4 169.9 483.7 169.7C486.0 169.5 488.3 169.4 490.6 169.3C493.0 169.2 495.3 169.1 497.6 169.0C499.9 168.9 502.0 168.9 504.5 168.9C507.0 168.8 509.9 168.8 512.6 168.8C515.3 168.8 518.2 168.8 520.7 168.9C523.2 168.9 525.3 168.9 527.6 169.0C529.9 169.1 532.2 169.2 534.6 169.3C536.9 169.4 539.2 169.5 541.5 169.7C543.8 169.9 546.1 170.0 548.4 170.2C550.7 170.4 553.0 170.6 555.4 170.9C557.7 171.1 560.0 171.4 562.3 171.7C564.6 172.0 566.9 172.4 569.2 172.8C571.5 173.1 573.8 173.5 576.1 174.0C578.3 174.4 580.6 174.9 582.9 175.5C585.2 176.0 587.4 176.6 589.7 177.2C591.9 177.8 594.1 178.5 596.4 179.2C598.6 180.0 600.8 180.7 603.0 181.6C605.1 182.4 607.3 183.3 609.4 184.2C611.6 185.2 613.7 186.2 615.8 187.2C617.8 188.2 619.7 189.2 621.6 190.3C623.4 191.3 625.1 192.3 626.9 193.5C628.8 194.6 630.8 196.0 632.7 197.3C634.6 198.7 636.5 200.1 638.3 201.5C640.2 203.0 642.0 204.5 643.8 206.1C645.5 207.6 647.3 209.3 648.8 210.8C650.3 212.3 652.3 214.4 653.0 215.2"/>
</g>
<g fill="none" stroke="#0a0a0a" stroke-width="2.5">
<circle cx="512.6" cy="433.6" r="389.3"/>
<circle cx="512.6" cy="433.6" r="259.6"/>
</g>
<g stroke="#3a3a3a" stroke-width="1.5" fill="none" stroke-linecap="square">
<path d="M102.5 24.5 V842.8 H923.6"/>
<path d="M102.5 792.4h5.5M102.5 741.1h8M102.5 689.8h5.5M102.5 638.5h8M102.5 587.2h5.5M102.5 536h8M102.5 484.7h5.5M102.5 434.4h8M102.5 382.1h5.5M102.5 330.8h8M102.5 279.6h5.5M102.5 228.3h8M102.5 177h5.5M102.5 125.7h8M102.5 74.4h5.5M102.5 24.6h8M153.5 842.8v-5.5M205 842.8v-8M256.4 842.8v-5.5M307.8 842.8v-8M359.3 842.8v-5.5M410.7 842.8v-8M462.2 842.8v-5.5M513.6 842.8v-8M565 842.8v-5.5M616.5 842.8v-8M667.9 842.8v-5.5M719.4 842.8v-8M770.8 842.8v-5.5M822.2 842.8v-8M873.7 842.8v-5.5M923.8 842.8v-8"/>
</g>
<g font-family="'Liberation Serif',serif" font-size="27.5" letter-spacing="0.8" fill="#3c3c3c">
<g text-anchor="end">
<text x="91.8" y="752.7">-120</text>
<text x="91.8" y="650.1">-80</text>
<text x="91.8" y="547.6">-40</text>
<text x="91.8" y="446">0</text>
<text x="91.8" y="342.4">40</text>
<text x="91.8" y="239.9">80</text>
<text x="91.8" y="137.3">120</text>
<text x="91.8" y="36.2">160</text>
</g>
<g text-anchor="middle">
<text x="102.9" y="881">-160</text>
<text x="205.4" y="881">-120</text>
<text x="308.2" y="881">-80</text>
<text x="411.1" y="881">-40</text>
<text x="514" y="881">0</text>
<text x="616.9" y="881">40</text>
<text x="719.8" y="881">80</text>
<text x="822.6" y="881">120</text>
<text x="925.5" y="881">160</text>
</g>
</g>
<g font-family="'Liberation Serif',serif" font-style="italic" fill="#333">
<text x="511.2" y="908.6" text-anchor="middle" font-size="30" letter-spacing="1.3">x/mm</text>
<text transform="translate(29 450.6) rotate(-90)" text-anchor="middle" font-size="33">y/mm</text>
</g>
<defs><linearGradient id="jet" x1="0" y1="1" x2="0" y2="0">
<stop offset="0.00200" stop-color="rgb(0,0,143)"/><stop offset="0.01362" stop-color="rgb(0,0,143)"/>
<stop offset="0.01763" stop-color="rgb(0,0,159)"/><stop offset="0.02925" stop-color="rgb(0,0,159)"/>
<stop offset="0.03325" stop-color="rgb(0,0,175)"/><stop offset="0.04487" stop-color="rgb(0,0,175)"/>
<stop offset="0.04888" stop-color="rgb(0,0,191)"/><stop offset="0.06050" stop-color="rgb(0,0,191)"/>
<stop offset="0.06450" stop-color="rgb(0,0,207)"/><stop offset="0.07612" stop-color="rgb(0,0,207)"/>
<stop offset="0.08013" stop-color="rgb(0,0,223)"/><stop offset="0.09175" stop-color="rgb(0,0,223)"/>
<stop offset="0.09575" stop-color="rgb(0,0,239)"/><stop offset="0.10737" stop-color="rgb(0,0,239)"/>
<stop offset="0.11138" stop-color="rgb(0,0,255)"/><stop offset="0.12300" stop-color="rgb(0,0,255)"/>
<stop offset="0.12700" stop-color="rgb(0,16,255)"/><stop offset="0.13862" stop-color="rgb(0,16,255)"/>
<stop offset="0.14263" stop-color="rgb(0,32,255)"/><stop offset="0.15425" stop-color="rgb(0,32,255)"/>
<stop offset="0.15825" stop-color="rgb(0,48,255)"/><stop offset="0.16987" stop-color="rgb(0,48,255)"/>
<stop offset="0.17388" stop-color="rgb(0,64,255)"/><stop offset="0.18550" stop-color="rgb(0,64,255)"/>
<stop offset="0.18950" stop-color="rgb(0,80,255)"/><stop offset="0.20112" stop-color="rgb(0,80,255)"/>
<stop offset="0.20513" stop-color="rgb(0,96,255)"/><stop offset="0.21675" stop-color="rgb(0,96,255)"/>
<stop offset="0.22075" stop-color="rgb(0,112,255)"/><stop offset="0.23237" stop-color="rgb(0,112,255)"/>
<stop offset="0.23638" stop-color="rgb(0,128,255)"/><stop offset="0.24800" stop-color="rgb(0,128,255)"/>
<stop offset="0.25200" stop-color="rgb(0,143,255)"/><stop offset="0.26362" stop-color="rgb(0,143,255)"/>
<stop offset="0.26763" stop-color="rgb(0,159,255)"/><stop offset="0.27925" stop-color="rgb(0,159,255)"/>
<stop offset="0.28325" stop-color="rgb(0,175,255)"/><stop offset="0.29487" stop-color="rgb(0,175,255)"/>
<stop offset="0.29888" stop-color="rgb(0,191,255)"/><stop offset="0.31050" stop-color="rgb(0,191,255)"/>
<stop offset="0.31450" stop-color="rgb(0,207,255)"/><stop offset="0.32612" stop-color="rgb(0,207,255)"/>
<stop offset="0.33013" stop-color="rgb(0,223,255)"/><stop offset="0.34175" stop-color="rgb(0,223,255)"/>
<stop offset="0.34575" stop-color="rgb(0,239,255)"/><stop offset="0.35737" stop-color="rgb(0,239,255)"/>
<stop offset="0.36138" stop-color="rgb(0,255,255)"/><stop offset="0.37300" stop-color="rgb(0,255,255)"/>
<stop offset="0.37700" stop-color="rgb(16,255,239)"/><stop offset="0.38862" stop-color="rgb(16,255,239)"/>
<stop offset="0.39263" stop-color="rgb(32,255,223)"/><stop offset="0.40425" stop-color="rgb(32,255,223)"/>
<stop offset="0.40825" stop-color="rgb(48,255,207)"/><stop offset="0.41987" stop-color="rgb(48,255,207)"/>
<stop offset="0.42388" stop-color="rgb(64,255,191)"/><stop offset="0.43550" stop-color="rgb(64,255,191)"/>
<stop offset="0.43950" stop-color="rgb(80,255,175)"/><stop offset="0.45112" stop-color="rgb(80,255,175)"/>
<stop offset="0.45513" stop-color="rgb(96,255,159)"/><stop offset="0.46675" stop-color="rgb(96,255,159)"/>
<stop offset="0.47075" stop-color="rgb(112,255,143)"/><stop offset="0.48237" stop-color="rgb(112,255,143)"/>
<stop offset="0.48638" stop-color="rgb(128,255,128)"/><stop offset="0.49800" stop-color="rgb(128,255,128)"/>
<stop offset="0.50200" stop-color="rgb(143,255,112)"/><stop offset="0.51362" stop-color="rgb(143,255,112)"/>
<stop offset="0.51763" stop-color="rgb(159,255,96)"/><stop offset="0.52925" stop-color="rgb(159,255,96)"/>
<stop offset="0.53325" stop-color="rgb(175,255,80)"/><stop offset="0.54487" stop-color="rgb(175,255,80)"/>
<stop offset="0.54888" stop-color="rgb(191,255,64)"/><stop offset="0.56050" stop-color="rgb(191,255,64)"/>
<stop offset="0.56450" stop-color="rgb(207,255,48)"/><stop offset="0.57612" stop-color="rgb(207,255,48)"/>
<stop offset="0.58013" stop-color="rgb(223,255,32)"/><stop offset="0.59175" stop-color="rgb(223,255,32)"/>
<stop offset="0.59575" stop-color="rgb(239,255,16)"/><stop offset="0.60737" stop-color="rgb(239,255,16)"/>
<stop offset="0.61138" stop-color="rgb(255,255,0)"/><stop offset="0.62300" stop-color="rgb(255,255,0)"/>
<stop offset="0.62700" stop-color="rgb(255,239,0)"/><stop offset="0.63862" stop-color="rgb(255,239,0)"/>
<stop offset="0.64263" stop-color="rgb(255,223,0)"/><stop offset="0.65425" stop-color="rgb(255,223,0)"/>
<stop offset="0.65825" stop-color="rgb(255,207,0)"/><stop offset="0.66987" stop-color="rgb(255,207,0)"/>
<stop offset="0.67388" stop-color="rgb(255,191,0)"/><stop offset="0.68550" stop-color="rgb(255,191,0)"/>
<stop offset="0.68950" stop-color="rgb(255,175,0)"/><stop offset="0.70112" stop-color="rgb(255,175,0)"/>
<stop offset="0.70513" stop-color="rgb(255,159,0)"/><stop offset="0.71675" stop-color="rgb(255,159,0)"/>
<stop offset="0.72075" stop-color="rgb(255,143,0)"/><stop offset="0.73237" stop-color="rgb(255,143,0)"/>
<stop offset="0.73638" stop-color="rgb(255,128,0)"/><stop offset="0.74800" stop-color="rgb(255,128,0)"/>
<stop offset="0.75200" stop-color="rgb(255,112,0)"/><stop offset="0.76362" stop-color="rgb(255,112,0)"/>
<stop offset="0.76763" stop-color="rgb(255,96,0)"/><stop offset="0.77925" stop-color="rgb(255,96,0)"/>
<stop offset="0.78325" stop-color="rgb(255,80,0)"/><stop offset="0.79487" stop-color="rgb(255,80,0)"/>
<stop offset="0.79888" stop-color="rgb(255,64,0)"/><stop offset="0.81050" stop-color="rgb(255,64,0)"/>
<stop offset="0.81450" stop-color="rgb(255,48,0)"/><stop offset="0.82612" stop-color="rgb(255,48,0)"/>
<stop offset="0.83013" stop-color="rgb(255,32,0)"/><stop offset="0.84175" stop-color="rgb(255,32,0)"/>
<stop offset="0.84575" stop-color="rgb(255,16,0)"/><stop offset="0.85737" stop-color="rgb(255,16,0)"/>
<stop offset="0.86138" stop-color="rgb(255,0,0)"/><stop offset="0.87300" stop-color="rgb(255,0,0)"/>
<stop offset="0.87700" stop-color="rgb(239,0,0)"/><stop offset="0.88862" stop-color="rgb(239,0,0)"/>
<stop offset="0.89263" stop-color="rgb(223,0,0)"/><stop offset="0.90425" stop-color="rgb(223,0,0)"/>
<stop offset="0.90825" stop-color="rgb(207,0,0)"/><stop offset="0.91987" stop-color="rgb(207,0,0)"/>
<stop offset="0.92388" stop-color="rgb(191,0,0)"/><stop offset="0.93550" stop-color="rgb(191,0,0)"/>
<stop offset="0.93950" stop-color="rgb(175,0,0)"/><stop offset="0.95112" stop-color="rgb(175,0,0)"/>
<stop offset="0.95513" stop-color="rgb(159,0,0)"/><stop offset="0.96675" stop-color="rgb(159,0,0)"/>
<stop offset="0.97075" stop-color="rgb(143,0,0)"/><stop offset="0.98237" stop-color="rgb(143,0,0)"/>
<stop offset="0.98638" stop-color="rgb(128,0,0)"/><stop offset="0.99800" stop-color="rgb(128,0,0)"/>
</linearGradient></defs>
<rect x="944.8" y="38.3" width="41.4" height="794.7" fill="url(#jet)" stroke="#161010" stroke-opacity="0.9" stroke-width="1.2"/>
<path d="M986.2 754.1h-6M986.2 674.7h-6M986.2 595.2h-6M986.2 515.7h-6M986.2 436.2h-6M986.2 356.8h-6M986.2 277.3h-6M986.2 197.8h-6M986.2 118.4h-6" stroke="#111" stroke-opacity="0.9" stroke-width="1.4" fill="none"/>
<g font-family="'Liberation Sans',sans-serif" font-size="18" letter-spacing="0.8" fill="#404040">
<text x="994.2" y="841">0</text>
<text x="994.2" y="761.5">0.1</text>
<text x="994.2" y="682.1">0.2</text>
<text x="994.2" y="602.6">0.3</text>
<text x="994.2" y="523.1">0.4</text>
<text x="994.2" y="443.6">0.5</text>
<text x="994.2" y="364.2">0.6</text>
<text x="994.2" y="284.7">0.7</text>
<text x="994.2" y="205.2">0.8</text>
<text x="994.2" y="125.8">0.9</text>
<text x="994.8" y="46.3">1</text>
</g>
<g font-family="'Liberation Serif',serif" fill="#333">
<text x="937.6" y="22.6" font-size="21" fill="#9a9a9a">×</text>
<text x="952.4" y="22.3" font-size="21.5">10</text>
<text x="974.3" y="13.6" font-size="11">-1</text>
<text x="985.2" y="22.3" font-size="22">mT</text>
</g>
<g font-family="'Liberation Serif',serif" fill="#141414">
<g transform="translate(143.5 370) scale(1.0000 1)">
<text x="-0.5" y="0" font-size="24.7">2.54</text>
<text x="42.4" y="0.4" font-size="27.0" font-family="'DejaVu Sans Light','DejaVu Sans',sans-serif" font-weight="200">×</text>
<text transform="translate(66.5 0) scale(0.9 1)" font-size="21.6">10</text>
<text x="86" y="-9.8" font-size="14.0">-3</text>
</g>
<g transform="translate(198 235.7) scale(1.0000 1)">
<text x="-0.5" y="0" font-size="24.7">2.80</text>
<text x="42.4" y="0.4" font-size="27.0" font-family="'DejaVu Sans Light','DejaVu Sans',sans-serif" font-weight="200">×</text>
<text transform="translate(66.5 0) scale(0.9 1)" font-size="21.6">10</text>
<text x="86" y="-9.8" font-size="14.0">-2</text>
</g>
<g transform="translate(295 134.7) scale(1.0000 1)">
<text x="-0.5" y="0" font-size="24.7">4.83</text>
<text x="42.4" y="0.4" font-size="27.0" font-family="'DejaVu Sans Light','DejaVu Sans',sans-serif" font-weight="200">×</text>
<text transform="translate(66.5 0) scale(0.9 1)" font-size="21.6">10</text>
<text x="86" y="-9.8" font-size="14.0">-2</text>
</g>
<g transform="translate(404.2 102.5) scale(1.0000 1)">
<text transform="scale(0.825 1)" x="-0.5" y="0" font-size="24.7">6.36</text>
<text x="35.8" y="0.4" font-size="27.0" font-family="'DejaVu Sans Light','DejaVu Sans',sans-serif" font-weight="200">×</text>
<text transform="translate(59.3 0) scale(0.9 1)" font-size="21.6">10</text>
<text x="79.1" y="-9.8" font-size="14.0">-2</text>
</g>
<g transform="translate(351.5 164.5) scale(1.0000 1)">
<text x="-0.5" y="0" font-size="24.7">7.37</text>
<text x="42.4" y="0.4" font-size="27.0" font-family="'DejaVu Sans Light','DejaVu Sans',sans-serif" font-weight="200">×</text>
<text transform="translate(66.5 0) scale(0.9 1)" font-size="21.6">10</text>
<text x="86" y="-9.8" font-size="14.0">-2</text>
</g>
<g transform="translate(470.5 170.7) scale(0.9784 1)">
<text x="-0.5" y="0" font-size="24.7">9.92</text>
<text x="42.4" y="0.4" font-size="27.0" font-family="'DejaVu Sans Light','DejaVu Sans',sans-serif" font-weight="200">×</text>
<text transform="translate(62.9 0) scale(0.97 1)" font-size="24.5">10</text>
<text x="86" y="-9.8" font-size="14.0">-2</text>
</g>
<g transform="translate(568.7 97.5) scale(1.0113 1)">
<text x="-0.5" y="0" font-size="24.7">5.85</text>
<text x="42.4" y="0.4" font-size="27.0" font-family="'DejaVu Sans Light','DejaVu Sans',sans-serif" font-weight="200">×</text>
<text transform="translate(66.5 0) scale(0.9 1)" font-size="21.6">10</text>
<text x="86" y="-9.8" font-size="14.0">-2</text>
</g>
<g transform="translate(570.3 177.5) scale(1.0000 1)">
<text x="-0.5" y="0" font-size="24.7">8.39</text>
<text x="42.4" y="0.4" font-size="27.0" font-family="'DejaVu Sans Light','DejaVu Sans',sans-serif" font-weight="200">×</text>
<text transform="translate(66.5 0) scale(0.9 1)" font-size="21.6">10</text>
<text x="86" y="-9.8" font-size="14.0">-2</text>
</g>
<g transform="translate(720.2 220.1) scale(1.0000 1)">
<text x="-0.5" y="0" font-size="24.7">3.31</text>
<text x="42.4" y="0.4" font-size="27.0" font-family="'DejaVu Sans Light','DejaVu Sans',sans-serif" font-weight="200">×</text>
<text transform="translate(66.5 0) scale(0.9 1)" font-size="21.6">10</text>
<text x="86" y="-9.8" font-size="14.0">-2</text>
</g>
<g transform="translate(759.8 309.4) scale(0.9856 1)">
<text x="-0.5" y="0" font-size="24.7">1.27</text>
<text x="42.4" y="0.4" font-size="27.0" font-family="'DejaVu Sans Light','DejaVu Sans',sans-serif" font-weight="200">×</text>
<text transform="translate(66.5 0) scale(0.9 1)" font-size="21.6">10</text>
<text x="86" y="-9.8" font-size="14.0">-2</text>
</g>
<g transform="translate(768.9 553.4) scale(0.9815 1)">
<text x="-0.5" y="0" font-size="24.7">7.63</text>
<text x="42.4" y="0.4" font-size="27.0" font-family="'DejaVu Sans Light','DejaVu Sans',sans-serif" font-weight="200">×</text>
<text transform="translate(66.5 0) scale(0.9 1)" font-size="21.6">10</text>
<text x="86" y="-9.8" font-size="14.0">-3</text>
</g>
<g transform="translate(715.8 642) scale(1.0206 1)">
<text x="-0.5" y="0" font-size="24.7">3.81</text>
<text x="42.4" y="0.4" font-size="27.0" font-family="'DejaVu Sans Light','DejaVu Sans',sans-serif" font-weight="200">×</text>
<text transform="translate(66.5 0) scale(0.9 1)" font-size="21.6">10</text>
<text x="86" y="-9.8" font-size="14.0">-2</text>
</g>
<g transform="translate(551.6 715.2) scale(1.0000 1)">
<text x="-0.5" y="0" font-size="24.7">8.90</text>
<text x="42.4" y="0.4" font-size="27.0" font-family="'DejaVu Sans Light','DejaVu Sans',sans-serif" font-weight="200">×</text>
<text transform="translate(66.5 0) scale(0.9 1)" font-size="21.6">10</text>
<text x="86" y="-9.8" font-size="14.0">-2</text>
</g>
<g transform="translate(603 771.3) scale(1.0000 1)">
<text x="-0.5" y="0" font-size="24.7">5.34</text>
<text x="42.4" y="0.4" font-size="27.0" font-family="'DejaVu Sans Light','DejaVu Sans',sans-serif" font-weight="200">×</text>
<text transform="translate(66.5 0) scale(0.9 1)" font-size="21.6">10</text>
<text x="86" y="-9.8" font-size="14.0">-2</text>
</g>
<g transform="translate(419.8 715.7) scale(1.0000 1)">
<text x="-0.5" y="0" font-size="24.7">9.41</text>
<text x="42.4" y="0.4" font-size="27.0" font-family="'DejaVu Sans Light','DejaVu Sans',sans-serif" font-weight="200">×</text>
<text transform="translate(66.5 0) scale(0.9 1)" font-size="21.6">10</text>
<text x="86" y="-9.8" font-size="14.0">-2</text>
</g>
<g transform="translate(398.8 766.2) scale(1.0000 1)">
<text x="-0.5" y="0" font-size="24.7">6.87</text>
<text x="42.4" y="0.4" font-size="27.0" font-family="'DejaVu Sans Light','DejaVu Sans',sans-serif" font-weight="200">×</text>
<text transform="translate(66.5 0) scale(0.9 1)" font-size="21.6">10</text>
<text x="86" y="-9.8" font-size="14.0">-2</text>
</g>
<g transform="translate(299.9 686.6) scale(1.0000 1)">
<text x="-0.5" y="0" font-size="24.7">7.88</text>
<text x="42.4" y="0.4" font-size="27.0" font-family="'DejaVu Sans Light','DejaVu Sans',sans-serif" font-weight="200">×</text>
<text transform="translate(66.5 0) scale(0.9 1)" font-size="21.6">10</text>
<text x="86" y="-9.8" font-size="14.0">-2</text>
</g>
<g transform="translate(241.8 709.3) scale(1.0000 1)">
<text x="-0.5" y="0" font-size="24.7">4.32</text>
<text x="42.4" y="0.4" font-size="27.0" font-family="'DejaVu Sans Light','DejaVu Sans',sans-serif" font-weight="200">×</text>
<text transform="translate(66.5 0) scale(0.9 1)" font-size="21.6">10</text>
<text x="86" y="-9.8" font-size="14.0">-2</text>
</g>
<g transform="translate(196.8 598.3) scale(1.0000 1)">
<text x="-0.5" y="0" font-size="24.7">2.29</text>
<text x="42.4" y="0.4" font-size="27.0" font-family="'DejaVu Sans Light','DejaVu Sans',sans-serif" font-weight="200">×</text>
<text transform="translate(66.5 0) scale(0.9 1)" font-size="21.6">10</text>
<text x="86" y="-9.8" font-size="14.0">-2</text>
</g>
<g transform="translate(176.2 626.9) scale(1.0000 1)">
<text x="-0.5" y="0" font-size="24.7">1.78</text>
<text x="42.4" y="0.4" font-size="27.0" font-family="'DejaVu Sans Light','DejaVu Sans',sans-serif" font-weight="200">×</text>
<text transform="translate(66.5 0) scale(0.9 1)" font-size="21.6">10</text>
<text x="86" y="-9.8" font-size="14.0">-2</text>
</g>
</g>
</svg></body></html>
